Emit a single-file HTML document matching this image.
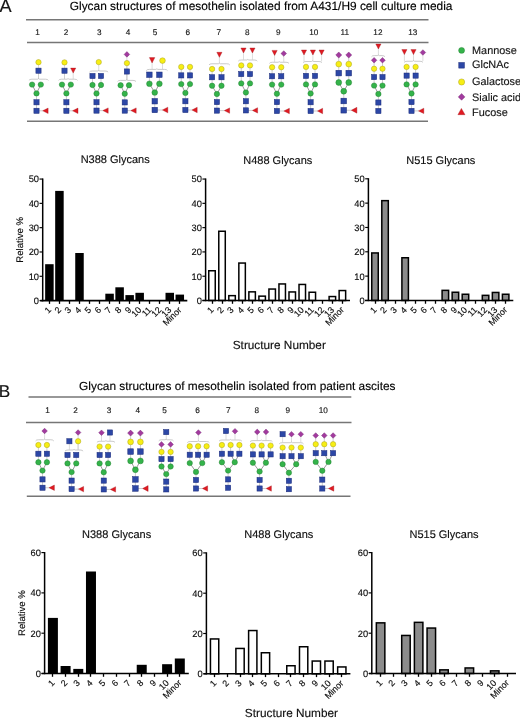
<!DOCTYPE html>
<html><head><meta charset="utf-8"><title>Glycan structures of mesothelin</title>
<style>html,body{margin:0;padding:0;background:#fff;}body{width:520px;height:718px;overflow:hidden;}svg{display:block;}text{stroke:#000;stroke-width:0.14px;}</style>
</head><body>
<svg width="520" height="718" viewBox="0 0 520 718" text-rendering="geometricPrecision" font-family="'Liberation Sans', Arial, Helvetica, sans-serif" fill="#111">
<rect width="520" height="718" fill="#fff"/>
<text x="-0.50" y="12.40" font-size="18.2" text-anchor="start" fill="#151515">A</text>
<text x="-1.20" y="397.00" font-size="17.2" text-anchor="start" fill="#151515">B</text>
<text x="261.10" y="9.50" font-size="11.9" text-anchor="middle" fill="#000" stroke="#000" stroke-width="0.18">Glycan structures of mesothelin isolated from A431/H9 cell culture media</text>
<text x="237.30" y="390.40" font-size="11.87" text-anchor="middle" fill="#000" stroke="#000" stroke-width="0.18">Glycan structures of mesothelin isolated from patient ascites</text>
<line x1="26" y1="19.7" x2="428.5" y2="19.7" stroke="#767676" stroke-width="1.5"/>
<line x1="27" y1="42.6" x2="428.5" y2="42.6" stroke="#767676" stroke-width="1.5"/>
<line x1="27" y1="121.3" x2="428" y2="121.3" stroke="#767676" stroke-width="1.5"/>
<line x1="28.5" y1="397.0" x2="351.3" y2="397.0" stroke="#767676" stroke-width="1.5"/>
<line x1="26" y1="422.6" x2="351.5" y2="422.6" stroke="#767676" stroke-width="1.5"/>
<line x1="26.8" y1="496.2" x2="350.5" y2="496.2" stroke="#767676" stroke-width="1.5"/>
<text x="37.60" y="35.10" font-size="8.2" text-anchor="middle" fill="#222">1</text>
<text x="66.00" y="35.10" font-size="8.2" text-anchor="middle" fill="#222">2</text>
<text x="99.20" y="35.10" font-size="8.2" text-anchor="middle" fill="#222">3</text>
<text x="128.00" y="35.10" font-size="8.2" text-anchor="middle" fill="#222">4</text>
<text x="155.00" y="35.10" font-size="8.2" text-anchor="middle" fill="#222">5</text>
<text x="187.70" y="35.10" font-size="8.2" text-anchor="middle" fill="#222">6</text>
<text x="218.70" y="35.10" font-size="8.2" text-anchor="middle" fill="#222">7</text>
<text x="247.30" y="35.10" font-size="8.2" text-anchor="middle" fill="#222">8</text>
<text x="278.30" y="35.10" font-size="8.2" text-anchor="middle" fill="#222">9</text>
<text x="313.80" y="35.10" font-size="8.2" text-anchor="middle" fill="#222">10</text>
<text x="344.70" y="35.10" font-size="8.2" text-anchor="middle" fill="#222">11</text>
<text x="377.90" y="35.10" font-size="8.2" text-anchor="middle" fill="#222">12</text>
<text x="412.70" y="35.10" font-size="8.2" text-anchor="middle" fill="#222">13</text>
<text x="47.50" y="412.60" font-size="8.2" text-anchor="middle" fill="#222">1</text>
<text x="75.50" y="412.60" font-size="8.2" text-anchor="middle" fill="#222">2</text>
<text x="109.00" y="412.60" font-size="8.2" text-anchor="middle" fill="#222">3</text>
<text x="137.70" y="412.60" font-size="8.2" text-anchor="middle" fill="#222">4</text>
<text x="164.50" y="412.60" font-size="8.2" text-anchor="middle" fill="#222">5</text>
<text x="197.50" y="412.60" font-size="8.2" text-anchor="middle" fill="#222">6</text>
<text x="228.30" y="412.60" font-size="8.2" text-anchor="middle" fill="#222">7</text>
<text x="256.90" y="412.60" font-size="8.2" text-anchor="middle" fill="#222">8</text>
<text x="287.70" y="412.60" font-size="8.2" text-anchor="middle" fill="#222">9</text>
<text x="323.20" y="412.60" font-size="8.2" text-anchor="middle" fill="#222">10</text>
<line x1="36.50" y1="110.80" x2="36.50" y2="102.30" stroke="#b8b8b8" stroke-width="0.7"/>
<line x1="36.50" y1="102.30" x2="36.50" y2="93.40" stroke="#b8b8b8" stroke-width="0.7"/>
<line x1="36.50" y1="93.40" x2="32.10" y2="84.60" stroke="#6e6e6e" stroke-width="0.7"/>
<line x1="36.50" y1="93.40" x2="40.80" y2="84.60" stroke="#6e6e6e" stroke-width="0.7"/>
<line x1="36.50" y1="110.80" x2="42.60" y2="110.80" stroke="#b8b8b8" stroke-width="0.7"/>
<line x1="38.50" y1="70.70" x2="38.50" y2="78.90" stroke="#c4c4c4" stroke-width="0.6"/>
<line x1="38.50" y1="62.20" x2="38.50" y2="78.90" stroke="#c4c4c4" stroke-width="0.6"/>
<path d="M28.90 80.40Q29.40 79.20 31.90 79.20L37.65 79.20L38.65 78.60L39.65 79.20L45.40 79.20Q47.90 79.20 48.40 80.40" fill="none" stroke="#b4b4b4" stroke-width="0.7"/>
<rect x="33.90" y="108.20" width="5.20" height="5.20" fill="#2c47a6" stroke="#1b2a78" stroke-width="0.5"/>
<rect x="33.90" y="99.70" width="5.20" height="5.20" fill="#2c47a6" stroke="#1b2a78" stroke-width="0.5"/>
<circle cx="36.50" cy="93.40" r="2.70" fill="#34b34a" stroke="#1f7d30" stroke-width="0.45"/>
<circle cx="32.10" cy="84.60" r="2.70" fill="#34b34a" stroke="#1f7d30" stroke-width="0.45"/>
<circle cx="40.80" cy="84.60" r="2.70" fill="#34b34a" stroke="#1f7d30" stroke-width="0.45"/>
<path d="M42.60 110.80L48.10 108.10L48.10 113.50Z" fill="#e01a22" stroke="#9a1018" stroke-width="0.35"/>
<rect x="35.90" y="68.10" width="5.20" height="5.20" fill="#2c47a6" stroke="#1b2a78" stroke-width="0.5"/>
<circle cx="38.50" cy="62.20" r="2.70" fill="#f7ee14" stroke="#a09a20" stroke-width="0.45"/>
<line x1="66.40" y1="110.80" x2="66.40" y2="102.30" stroke="#b8b8b8" stroke-width="0.7"/>
<line x1="66.40" y1="102.30" x2="66.40" y2="93.40" stroke="#b8b8b8" stroke-width="0.7"/>
<line x1="66.40" y1="93.40" x2="62.00" y2="84.60" stroke="#6e6e6e" stroke-width="0.7"/>
<line x1="66.40" y1="93.40" x2="70.80" y2="84.60" stroke="#6e6e6e" stroke-width="0.7"/>
<line x1="66.40" y1="110.80" x2="72.50" y2="110.80" stroke="#b8b8b8" stroke-width="0.7"/>
<line x1="64.50" y1="70.70" x2="64.50" y2="78.90" stroke="#c4c4c4" stroke-width="0.6"/>
<line x1="64.50" y1="62.40" x2="64.50" y2="78.90" stroke="#c4c4c4" stroke-width="0.6"/>
<line x1="73.20" y1="70.60" x2="73.20" y2="78.90" stroke="#c4c4c4" stroke-width="0.6"/>
<path d="M58.60 80.40Q59.10 79.20 61.60 79.20L67.05 79.20L68.05 78.60L69.05 79.20L74.50 79.20Q77.00 79.20 77.50 80.40" fill="none" stroke="#b4b4b4" stroke-width="0.7"/>
<rect x="63.80" y="108.20" width="5.20" height="5.20" fill="#2c47a6" stroke="#1b2a78" stroke-width="0.5"/>
<rect x="63.80" y="99.70" width="5.20" height="5.20" fill="#2c47a6" stroke="#1b2a78" stroke-width="0.5"/>
<circle cx="66.40" cy="93.40" r="2.70" fill="#34b34a" stroke="#1f7d30" stroke-width="0.45"/>
<circle cx="62.00" cy="84.60" r="2.70" fill="#34b34a" stroke="#1f7d30" stroke-width="0.45"/>
<circle cx="70.80" cy="84.60" r="2.70" fill="#34b34a" stroke="#1f7d30" stroke-width="0.45"/>
<path d="M72.50 110.80L78.00 108.10L78.00 113.50Z" fill="#e01a22" stroke="#9a1018" stroke-width="0.35"/>
<rect x="61.90" y="68.10" width="5.20" height="5.20" fill="#2c47a6" stroke="#1b2a78" stroke-width="0.5"/>
<circle cx="64.50" cy="62.40" r="2.70" fill="#f7ee14" stroke="#a09a20" stroke-width="0.45"/>
<path d="M70.60 68.10L75.80 68.10L73.20 73.10Z" fill="#e01a22" stroke="#9a1018" stroke-width="0.35"/>
<line x1="96.50" y1="110.60" x2="96.50" y2="102.25" stroke="#b8b8b8" stroke-width="0.7"/>
<line x1="96.50" y1="102.25" x2="96.50" y2="93.50" stroke="#b8b8b8" stroke-width="0.7"/>
<line x1="96.50" y1="93.50" x2="92.50" y2="85.00" stroke="#6e6e6e" stroke-width="0.7"/>
<line x1="96.50" y1="93.50" x2="101.00" y2="85.00" stroke="#6e6e6e" stroke-width="0.7"/>
<line x1="96.50" y1="110.60" x2="102.80" y2="110.60" stroke="#b8b8b8" stroke-width="0.7"/>
<line x1="92.50" y1="85.00" x2="92.50" y2="76.00" stroke="#b8b8b8" stroke-width="0.7"/>
<line x1="101.00" y1="85.00" x2="101.00" y2="76.00" stroke="#b8b8b8" stroke-width="0.7"/>
<line x1="98.75" y1="62.10" x2="98.75" y2="70.70" stroke="#c4c4c4" stroke-width="0.6"/>
<path d="M89.40 72.20Q89.90 71.00 92.40 71.00L97.75 71.00L98.75 70.40L99.75 71.00L105.10 71.00Q107.60 71.00 108.10 72.20" fill="none" stroke="#b4b4b4" stroke-width="0.7"/>
<rect x="93.90" y="108.00" width="5.20" height="5.20" fill="#2c47a6" stroke="#1b2a78" stroke-width="0.5"/>
<rect x="93.90" y="99.65" width="5.20" height="5.20" fill="#2c47a6" stroke="#1b2a78" stroke-width="0.5"/>
<circle cx="96.50" cy="93.50" r="2.70" fill="#34b34a" stroke="#1f7d30" stroke-width="0.45"/>
<circle cx="92.50" cy="85.00" r="2.70" fill="#34b34a" stroke="#1f7d30" stroke-width="0.45"/>
<circle cx="101.00" cy="85.00" r="2.70" fill="#34b34a" stroke="#1f7d30" stroke-width="0.45"/>
<rect x="89.90" y="73.40" width="5.20" height="5.20" fill="#2c47a6" stroke="#1b2a78" stroke-width="0.5"/>
<rect x="98.40" y="73.40" width="5.20" height="5.20" fill="#2c47a6" stroke="#1b2a78" stroke-width="0.5"/>
<path d="M102.80 110.60L108.20 107.90L108.20 113.30Z" fill="#e01a22" stroke="#9a1018" stroke-width="0.35"/>
<circle cx="98.75" cy="62.10" r="2.70" fill="#f7ee14" stroke="#a09a20" stroke-width="0.45"/>
<line x1="124.75" y1="110.60" x2="124.75" y2="102.40" stroke="#b8b8b8" stroke-width="0.7"/>
<line x1="124.75" y1="102.40" x2="124.75" y2="93.75" stroke="#b8b8b8" stroke-width="0.7"/>
<line x1="124.75" y1="93.75" x2="120.60" y2="85.25" stroke="#6e6e6e" stroke-width="0.7"/>
<line x1="124.75" y1="93.75" x2="129.00" y2="85.25" stroke="#6e6e6e" stroke-width="0.7"/>
<line x1="124.75" y1="110.60" x2="130.80" y2="110.60" stroke="#b8b8b8" stroke-width="0.7"/>
<line x1="126.90" y1="71.50" x2="126.90" y2="80.10" stroke="#c4c4c4" stroke-width="0.6"/>
<line x1="126.90" y1="63.10" x2="126.90" y2="80.10" stroke="#c4c4c4" stroke-width="0.6"/>
<line x1="126.90" y1="54.40" x2="126.90" y2="80.10" stroke="#c4c4c4" stroke-width="0.6"/>
<path d="M117.50 81.60Q118.00 80.40 120.50 80.40L125.75 80.40L126.75 79.80L127.75 80.40L133.00 80.40Q135.50 80.40 136.00 81.60" fill="none" stroke="#b4b4b4" stroke-width="0.7"/>
<rect x="122.15" y="108.00" width="5.20" height="5.20" fill="#2c47a6" stroke="#1b2a78" stroke-width="0.5"/>
<rect x="122.15" y="99.80" width="5.20" height="5.20" fill="#2c47a6" stroke="#1b2a78" stroke-width="0.5"/>
<circle cx="124.75" cy="93.75" r="2.70" fill="#34b34a" stroke="#1f7d30" stroke-width="0.45"/>
<circle cx="120.60" cy="85.25" r="2.70" fill="#34b34a" stroke="#1f7d30" stroke-width="0.45"/>
<circle cx="129.00" cy="85.25" r="2.70" fill="#34b34a" stroke="#1f7d30" stroke-width="0.45"/>
<path d="M130.80 110.60L136.20 107.90L136.20 113.30Z" fill="#e01a22" stroke="#9a1018" stroke-width="0.35"/>
<rect x="124.30" y="68.90" width="5.20" height="5.20" fill="#2c47a6" stroke="#1b2a78" stroke-width="0.5"/>
<circle cx="126.90" cy="63.10" r="2.70" fill="#f7ee14" stroke="#a09a20" stroke-width="0.45"/>
<path d="M126.90 51.60L129.70 54.40L126.90 57.20L124.10 54.40Z" fill="#a23a9e" stroke="#6e2470" stroke-width="0.4"/>
<line x1="154.75" y1="110.00" x2="154.75" y2="101.25" stroke="#b8b8b8" stroke-width="0.7"/>
<line x1="154.75" y1="101.25" x2="154.75" y2="92.50" stroke="#b8b8b8" stroke-width="0.7"/>
<line x1="154.75" y1="92.50" x2="149.40" y2="83.75" stroke="#6e6e6e" stroke-width="0.7"/>
<line x1="154.75" y1="92.50" x2="159.40" y2="83.75" stroke="#6e6e6e" stroke-width="0.7"/>
<line x1="154.75" y1="110.00" x2="162.40" y2="110.00" stroke="#b8b8b8" stroke-width="0.7"/>
<line x1="149.40" y1="83.75" x2="149.40" y2="74.75" stroke="#b8b8b8" stroke-width="0.7"/>
<line x1="159.40" y1="83.75" x2="159.40" y2="74.75" stroke="#b8b8b8" stroke-width="0.7"/>
<line x1="152.10" y1="60.25" x2="152.10" y2="69.10" stroke="#c4c4c4" stroke-width="0.6"/>
<line x1="162.50" y1="60.60" x2="162.50" y2="69.10" stroke="#c4c4c4" stroke-width="0.6"/>
<path d="M146.25 70.60Q146.75 69.40 149.25 69.40L155.88 69.40L156.88 68.80L157.88 69.40L164.50 69.40Q167.00 69.40 167.50 70.60" fill="none" stroke="#b4b4b4" stroke-width="0.7"/>
<rect x="152.02" y="107.27" width="5.46" height="5.46" fill="#2c47a6" stroke="#1b2a78" stroke-width="0.5"/>
<rect x="152.02" y="98.52" width="5.46" height="5.46" fill="#2c47a6" stroke="#1b2a78" stroke-width="0.5"/>
<circle cx="154.75" cy="92.50" r="2.84" fill="#34b34a" stroke="#1f7d30" stroke-width="0.45"/>
<circle cx="149.40" cy="83.75" r="2.84" fill="#34b34a" stroke="#1f7d30" stroke-width="0.45"/>
<circle cx="159.40" cy="83.75" r="2.84" fill="#34b34a" stroke="#1f7d30" stroke-width="0.45"/>
<rect x="146.67" y="72.02" width="5.46" height="5.46" fill="#2c47a6" stroke="#1b2a78" stroke-width="0.5"/>
<rect x="156.67" y="72.02" width="5.46" height="5.46" fill="#2c47a6" stroke="#1b2a78" stroke-width="0.5"/>
<path d="M162.40 110.00L167.80 107.17L167.80 112.83Z" fill="#e01a22" stroke="#9a1018" stroke-width="0.35"/>
<path d="M149.37 57.62L154.83 57.62L152.10 62.88Z" fill="#e01a22" stroke="#9a1018" stroke-width="0.35"/>
<circle cx="162.50" cy="60.60" r="2.84" fill="#f7ee14" stroke="#a09a20" stroke-width="0.45"/>
<line x1="185.40" y1="110.00" x2="185.40" y2="101.25" stroke="#b8b8b8" stroke-width="0.7"/>
<line x1="185.40" y1="101.25" x2="185.40" y2="92.90" stroke="#b8b8b8" stroke-width="0.7"/>
<line x1="185.40" y1="92.90" x2="181.25" y2="84.10" stroke="#6e6e6e" stroke-width="0.7"/>
<line x1="185.40" y1="92.90" x2="190.00" y2="84.10" stroke="#6e6e6e" stroke-width="0.7"/>
<line x1="185.40" y1="110.00" x2="191.90" y2="110.00" stroke="#b8b8b8" stroke-width="0.7"/>
<line x1="181.25" y1="84.10" x2="181.25" y2="75.40" stroke="#b8b8b8" stroke-width="0.7"/>
<line x1="181.25" y1="75.40" x2="181.25" y2="66.90" stroke="#b8b8b8" stroke-width="0.7"/>
<line x1="190.00" y1="84.10" x2="190.00" y2="75.40" stroke="#b8b8b8" stroke-width="0.7"/>
<line x1="190.00" y1="75.40" x2="190.00" y2="66.90" stroke="#b8b8b8" stroke-width="0.7"/>
<rect x="182.80" y="107.40" width="5.20" height="5.20" fill="#2c47a6" stroke="#1b2a78" stroke-width="0.5"/>
<rect x="182.80" y="98.65" width="5.20" height="5.20" fill="#2c47a6" stroke="#1b2a78" stroke-width="0.5"/>
<circle cx="185.40" cy="92.90" r="2.70" fill="#34b34a" stroke="#1f7d30" stroke-width="0.45"/>
<circle cx="181.25" cy="84.10" r="2.70" fill="#34b34a" stroke="#1f7d30" stroke-width="0.45"/>
<circle cx="190.00" cy="84.10" r="2.70" fill="#34b34a" stroke="#1f7d30" stroke-width="0.45"/>
<rect x="178.65" y="72.80" width="5.20" height="5.20" fill="#2c47a6" stroke="#1b2a78" stroke-width="0.5"/>
<circle cx="181.25" cy="66.90" r="2.70" fill="#f7ee14" stroke="#a09a20" stroke-width="0.45"/>
<rect x="187.40" y="72.80" width="5.20" height="5.20" fill="#2c47a6" stroke="#1b2a78" stroke-width="0.5"/>
<circle cx="190.00" cy="66.90" r="2.70" fill="#f7ee14" stroke="#a09a20" stroke-width="0.45"/>
<path d="M191.90 110.00L197.20 107.30L197.20 112.70Z" fill="#e01a22" stroke="#9a1018" stroke-width="0.35"/>
<line x1="216.90" y1="110.60" x2="216.90" y2="102.10" stroke="#b8b8b8" stroke-width="0.7"/>
<line x1="216.90" y1="102.10" x2="216.90" y2="94.00" stroke="#b8b8b8" stroke-width="0.7"/>
<line x1="216.90" y1="94.00" x2="212.10" y2="85.75" stroke="#6e6e6e" stroke-width="0.7"/>
<line x1="216.90" y1="94.00" x2="221.50" y2="85.75" stroke="#6e6e6e" stroke-width="0.7"/>
<line x1="216.90" y1="110.60" x2="224.30" y2="110.60" stroke="#b8b8b8" stroke-width="0.7"/>
<line x1="212.10" y1="85.75" x2="212.10" y2="77.25" stroke="#b8b8b8" stroke-width="0.7"/>
<line x1="212.10" y1="77.25" x2="212.10" y2="69.00" stroke="#b8b8b8" stroke-width="0.7"/>
<line x1="221.50" y1="85.75" x2="221.50" y2="77.25" stroke="#b8b8b8" stroke-width="0.7"/>
<line x1="221.50" y1="77.25" x2="221.50" y2="69.00" stroke="#b8b8b8" stroke-width="0.7"/>
<line x1="219.40" y1="54.80" x2="219.40" y2="63.45" stroke="#c4c4c4" stroke-width="0.6"/>
<path d="M209.00 64.95Q209.50 63.75 212.00 63.75L218.38 63.75L219.38 63.15L220.38 63.75L226.75 63.75Q229.25 63.75 229.75 64.95" fill="none" stroke="#b4b4b4" stroke-width="0.7"/>
<rect x="214.30" y="108.00" width="5.20" height="5.20" fill="#2c47a6" stroke="#1b2a78" stroke-width="0.5"/>
<rect x="214.30" y="99.50" width="5.20" height="5.20" fill="#2c47a6" stroke="#1b2a78" stroke-width="0.5"/>
<circle cx="216.90" cy="94.00" r="2.70" fill="#34b34a" stroke="#1f7d30" stroke-width="0.45"/>
<circle cx="212.10" cy="85.75" r="2.70" fill="#34b34a" stroke="#1f7d30" stroke-width="0.45"/>
<circle cx="221.50" cy="85.75" r="2.70" fill="#34b34a" stroke="#1f7d30" stroke-width="0.45"/>
<rect x="209.50" y="74.65" width="5.20" height="5.20" fill="#2c47a6" stroke="#1b2a78" stroke-width="0.5"/>
<circle cx="212.10" cy="69.00" r="2.70" fill="#f7ee14" stroke="#a09a20" stroke-width="0.45"/>
<rect x="218.90" y="74.65" width="5.20" height="5.20" fill="#2c47a6" stroke="#1b2a78" stroke-width="0.5"/>
<circle cx="221.50" cy="69.00" r="2.70" fill="#f7ee14" stroke="#a09a20" stroke-width="0.45"/>
<path d="M224.30 110.60L229.60 107.90L229.60 113.30Z" fill="#e01a22" stroke="#9a1018" stroke-width="0.35"/>
<path d="M216.80 52.30L222.00 52.30L219.40 57.30Z" fill="#e01a22" stroke="#9a1018" stroke-width="0.35"/>
<line x1="245.90" y1="110.40" x2="245.90" y2="101.25" stroke="#b8b8b8" stroke-width="0.7"/>
<line x1="245.90" y1="101.25" x2="245.90" y2="92.50" stroke="#b8b8b8" stroke-width="0.7"/>
<line x1="245.90" y1="92.50" x2="241.25" y2="83.40" stroke="#6e6e6e" stroke-width="0.7"/>
<line x1="245.90" y1="92.50" x2="250.00" y2="83.40" stroke="#6e6e6e" stroke-width="0.7"/>
<line x1="245.90" y1="110.40" x2="252.40" y2="110.40" stroke="#b8b8b8" stroke-width="0.7"/>
<line x1="241.25" y1="83.40" x2="241.25" y2="74.10" stroke="#b8b8b8" stroke-width="0.7"/>
<line x1="241.25" y1="74.10" x2="241.25" y2="65.40" stroke="#b8b8b8" stroke-width="0.7"/>
<line x1="250.00" y1="83.40" x2="250.00" y2="74.10" stroke="#b8b8b8" stroke-width="0.7"/>
<line x1="250.00" y1="74.10" x2="250.00" y2="65.40" stroke="#b8b8b8" stroke-width="0.7"/>
<line x1="243.50" y1="50.50" x2="243.50" y2="59.70" stroke="#c4c4c4" stroke-width="0.6"/>
<line x1="252.45" y1="50.50" x2="252.45" y2="59.70" stroke="#c4c4c4" stroke-width="0.6"/>
<path d="M238.25 61.20Q238.75 60.00 241.25 60.00L246.75 60.00L247.75 59.40L248.75 60.00L254.25 60.00Q256.75 60.00 257.25 61.20" fill="none" stroke="#b4b4b4" stroke-width="0.7"/>
<rect x="243.30" y="107.80" width="5.20" height="5.20" fill="#2c47a6" stroke="#1b2a78" stroke-width="0.5"/>
<rect x="243.30" y="98.65" width="5.20" height="5.20" fill="#2c47a6" stroke="#1b2a78" stroke-width="0.5"/>
<circle cx="245.90" cy="92.50" r="2.70" fill="#34b34a" stroke="#1f7d30" stroke-width="0.45"/>
<circle cx="241.25" cy="83.40" r="2.70" fill="#34b34a" stroke="#1f7d30" stroke-width="0.45"/>
<circle cx="250.00" cy="83.40" r="2.70" fill="#34b34a" stroke="#1f7d30" stroke-width="0.45"/>
<rect x="238.65" y="71.50" width="5.20" height="5.20" fill="#2c47a6" stroke="#1b2a78" stroke-width="0.5"/>
<circle cx="241.25" cy="65.40" r="2.70" fill="#f7ee14" stroke="#a09a20" stroke-width="0.45"/>
<rect x="247.40" y="71.50" width="5.20" height="5.20" fill="#2c47a6" stroke="#1b2a78" stroke-width="0.5"/>
<circle cx="250.00" cy="65.40" r="2.70" fill="#f7ee14" stroke="#a09a20" stroke-width="0.45"/>
<path d="M252.40 110.40L257.60 107.70L257.60 113.10Z" fill="#e01a22" stroke="#9a1018" stroke-width="0.35"/>
<path d="M240.90 48.00L246.10 48.00L243.50 53.00Z" fill="#e01a22" stroke="#9a1018" stroke-width="0.35"/>
<path d="M249.85 48.00L255.05 48.00L252.45 53.00Z" fill="#e01a22" stroke="#9a1018" stroke-width="0.35"/>
<line x1="276.90" y1="111.00" x2="276.90" y2="102.10" stroke="#b8b8b8" stroke-width="0.7"/>
<line x1="276.90" y1="102.10" x2="276.90" y2="93.75" stroke="#b8b8b8" stroke-width="0.7"/>
<line x1="276.90" y1="93.75" x2="272.10" y2="84.60" stroke="#6e6e6e" stroke-width="0.7"/>
<line x1="276.90" y1="93.75" x2="281.25" y2="84.60" stroke="#6e6e6e" stroke-width="0.7"/>
<line x1="276.90" y1="111.00" x2="283.80" y2="111.00" stroke="#b8b8b8" stroke-width="0.7"/>
<line x1="272.10" y1="84.60" x2="272.10" y2="76.25" stroke="#b8b8b8" stroke-width="0.7"/>
<line x1="272.10" y1="76.25" x2="272.10" y2="67.25" stroke="#b8b8b8" stroke-width="0.7"/>
<line x1="281.25" y1="84.60" x2="281.25" y2="76.25" stroke="#b8b8b8" stroke-width="0.7"/>
<line x1="281.25" y1="76.25" x2="281.25" y2="67.25" stroke="#b8b8b8" stroke-width="0.7"/>
<line x1="274.60" y1="52.90" x2="274.60" y2="61.95" stroke="#c4c4c4" stroke-width="0.6"/>
<line x1="283.75" y1="53.50" x2="283.75" y2="61.95" stroke="#c4c4c4" stroke-width="0.6"/>
<path d="M269.40 63.45Q269.90 62.25 272.40 62.25L278.20 62.25L279.20 61.65L280.20 62.25L286.00 62.25Q288.50 62.25 289.00 63.45" fill="none" stroke="#b4b4b4" stroke-width="0.7"/>
<rect x="274.30" y="108.40" width="5.20" height="5.20" fill="#2c47a6" stroke="#1b2a78" stroke-width="0.5"/>
<rect x="274.30" y="99.50" width="5.20" height="5.20" fill="#2c47a6" stroke="#1b2a78" stroke-width="0.5"/>
<circle cx="276.90" cy="93.75" r="2.70" fill="#34b34a" stroke="#1f7d30" stroke-width="0.45"/>
<circle cx="272.10" cy="84.60" r="2.70" fill="#34b34a" stroke="#1f7d30" stroke-width="0.45"/>
<circle cx="281.25" cy="84.60" r="2.70" fill="#34b34a" stroke="#1f7d30" stroke-width="0.45"/>
<rect x="269.50" y="73.65" width="5.20" height="5.20" fill="#2c47a6" stroke="#1b2a78" stroke-width="0.5"/>
<circle cx="272.10" cy="67.25" r="2.70" fill="#f7ee14" stroke="#a09a20" stroke-width="0.45"/>
<rect x="278.65" y="73.65" width="5.20" height="5.20" fill="#2c47a6" stroke="#1b2a78" stroke-width="0.5"/>
<circle cx="281.25" cy="67.25" r="2.70" fill="#f7ee14" stroke="#a09a20" stroke-width="0.45"/>
<path d="M283.80 111.00L289.40 108.30L289.40 113.70Z" fill="#e01a22" stroke="#9a1018" stroke-width="0.35"/>
<path d="M272.00 50.40L277.20 50.40L274.60 55.40Z" fill="#e01a22" stroke="#9a1018" stroke-width="0.35"/>
<path d="M283.75 50.70L286.55 53.50L283.75 56.30L280.95 53.50Z" fill="#a23a9e" stroke="#6e2470" stroke-width="0.4"/>
<line x1="310.60" y1="111.00" x2="310.60" y2="102.25" stroke="#b8b8b8" stroke-width="0.7"/>
<line x1="310.60" y1="102.25" x2="310.60" y2="93.50" stroke="#b8b8b8" stroke-width="0.7"/>
<line x1="310.60" y1="93.50" x2="306.00" y2="84.40" stroke="#6e6e6e" stroke-width="0.7"/>
<line x1="310.60" y1="93.50" x2="315.00" y2="84.40" stroke="#6e6e6e" stroke-width="0.7"/>
<line x1="310.60" y1="111.00" x2="317.40" y2="111.00" stroke="#b8b8b8" stroke-width="0.7"/>
<line x1="306.00" y1="84.40" x2="306.00" y2="75.90" stroke="#b8b8b8" stroke-width="0.7"/>
<line x1="306.00" y1="75.90" x2="306.00" y2="66.90" stroke="#b8b8b8" stroke-width="0.7"/>
<line x1="315.00" y1="84.40" x2="315.00" y2="75.90" stroke="#b8b8b8" stroke-width="0.7"/>
<line x1="315.00" y1="75.90" x2="315.00" y2="66.90" stroke="#b8b8b8" stroke-width="0.7"/>
<line x1="304.00" y1="52.50" x2="304.00" y2="61.20" stroke="#c4c4c4" stroke-width="0.6"/>
<line x1="312.90" y1="52.50" x2="312.90" y2="61.20" stroke="#c4c4c4" stroke-width="0.6"/>
<line x1="321.60" y1="52.50" x2="321.60" y2="61.20" stroke="#c4c4c4" stroke-width="0.6"/>
<path d="M303.00 62.70Q303.50 61.50 306.00 61.50L311.50 61.50L312.50 60.90L313.50 61.50L319.00 61.50Q321.50 61.50 322.00 62.70" fill="none" stroke="#b4b4b4" stroke-width="0.7"/>
<rect x="308.00" y="108.40" width="5.20" height="5.20" fill="#2c47a6" stroke="#1b2a78" stroke-width="0.5"/>
<rect x="308.00" y="99.65" width="5.20" height="5.20" fill="#2c47a6" stroke="#1b2a78" stroke-width="0.5"/>
<circle cx="310.60" cy="93.50" r="2.70" fill="#34b34a" stroke="#1f7d30" stroke-width="0.45"/>
<circle cx="306.00" cy="84.40" r="2.70" fill="#34b34a" stroke="#1f7d30" stroke-width="0.45"/>
<circle cx="315.00" cy="84.40" r="2.70" fill="#34b34a" stroke="#1f7d30" stroke-width="0.45"/>
<rect x="303.40" y="73.30" width="5.20" height="5.20" fill="#2c47a6" stroke="#1b2a78" stroke-width="0.5"/>
<circle cx="306.00" cy="66.90" r="2.70" fill="#f7ee14" stroke="#a09a20" stroke-width="0.45"/>
<rect x="312.40" y="73.30" width="5.20" height="5.20" fill="#2c47a6" stroke="#1b2a78" stroke-width="0.5"/>
<circle cx="315.00" cy="66.90" r="2.70" fill="#f7ee14" stroke="#a09a20" stroke-width="0.45"/>
<path d="M317.40 111.00L322.60 108.30L322.60 113.70Z" fill="#e01a22" stroke="#9a1018" stroke-width="0.35"/>
<path d="M301.40 50.00L306.60 50.00L304.00 55.00Z" fill="#e01a22" stroke="#9a1018" stroke-width="0.35"/>
<path d="M310.30 50.00L315.50 50.00L312.90 55.00Z" fill="#e01a22" stroke="#9a1018" stroke-width="0.35"/>
<path d="M319.00 50.00L324.20 50.00L321.60 55.00Z" fill="#e01a22" stroke="#9a1018" stroke-width="0.35"/>
<line x1="343.75" y1="110.25" x2="343.75" y2="101.00" stroke="#b8b8b8" stroke-width="0.7"/>
<line x1="343.75" y1="101.00" x2="343.75" y2="91.25" stroke="#b8b8b8" stroke-width="0.7"/>
<line x1="343.75" y1="91.25" x2="338.75" y2="82.50" stroke="#6e6e6e" stroke-width="0.7"/>
<line x1="343.75" y1="91.25" x2="348.75" y2="82.50" stroke="#6e6e6e" stroke-width="0.7"/>
<line x1="343.75" y1="110.25" x2="351.30" y2="110.25" stroke="#b8b8b8" stroke-width="0.7"/>
<line x1="338.75" y1="82.50" x2="338.75" y2="73.10" stroke="#b8b8b8" stroke-width="0.7"/>
<line x1="338.75" y1="73.10" x2="338.75" y2="64.10" stroke="#b8b8b8" stroke-width="0.7"/>
<line x1="338.75" y1="64.10" x2="338.75" y2="55.00" stroke="#b8b8b8" stroke-width="0.7"/>
<line x1="348.75" y1="82.50" x2="348.75" y2="73.10" stroke="#b8b8b8" stroke-width="0.7"/>
<line x1="348.75" y1="73.10" x2="348.75" y2="64.10" stroke="#b8b8b8" stroke-width="0.7"/>
<line x1="348.75" y1="64.10" x2="348.75" y2="55.00" stroke="#b8b8b8" stroke-width="0.7"/>
<rect x="340.94" y="107.44" width="5.62" height="5.62" fill="#2c47a6" stroke="#1b2a78" stroke-width="0.5"/>
<rect x="340.94" y="98.19" width="5.62" height="5.62" fill="#2c47a6" stroke="#1b2a78" stroke-width="0.5"/>
<circle cx="343.75" cy="91.25" r="2.92" fill="#34b34a" stroke="#1f7d30" stroke-width="0.45"/>
<circle cx="338.75" cy="82.50" r="2.92" fill="#34b34a" stroke="#1f7d30" stroke-width="0.45"/>
<circle cx="348.75" cy="82.50" r="2.92" fill="#34b34a" stroke="#1f7d30" stroke-width="0.45"/>
<rect x="335.94" y="70.29" width="5.62" height="5.62" fill="#2c47a6" stroke="#1b2a78" stroke-width="0.5"/>
<circle cx="338.75" cy="64.10" r="2.92" fill="#f7ee14" stroke="#a09a20" stroke-width="0.45"/>
<path d="M338.75 51.98L341.77 55.00L338.75 58.02L335.73 55.00Z" fill="#a23a9e" stroke="#6e2470" stroke-width="0.4"/>
<rect x="345.94" y="70.29" width="5.62" height="5.62" fill="#2c47a6" stroke="#1b2a78" stroke-width="0.5"/>
<circle cx="348.75" cy="64.10" r="2.92" fill="#f7ee14" stroke="#a09a20" stroke-width="0.45"/>
<path d="M348.75 51.98L351.77 55.00L348.75 58.02L345.73 55.00Z" fill="#a23a9e" stroke="#6e2470" stroke-width="0.4"/>
<path d="M351.30 110.25L356.90 107.33L356.90 113.17Z" fill="#e01a22" stroke="#9a1018" stroke-width="0.35"/>
<line x1="378.40" y1="111.00" x2="378.40" y2="102.50" stroke="#b8b8b8" stroke-width="0.7"/>
<line x1="378.40" y1="102.50" x2="378.40" y2="94.00" stroke="#b8b8b8" stroke-width="0.7"/>
<line x1="378.40" y1="94.00" x2="374.10" y2="85.60" stroke="#6e6e6e" stroke-width="0.7"/>
<line x1="378.40" y1="94.00" x2="382.50" y2="85.60" stroke="#6e6e6e" stroke-width="0.7"/>
<line x1="374.10" y1="85.60" x2="374.10" y2="77.10" stroke="#b8b8b8" stroke-width="0.7"/>
<line x1="374.10" y1="77.10" x2="374.10" y2="68.75" stroke="#b8b8b8" stroke-width="0.7"/>
<line x1="374.10" y1="68.75" x2="374.10" y2="60.25" stroke="#b8b8b8" stroke-width="0.7"/>
<line x1="382.50" y1="85.60" x2="382.50" y2="77.10" stroke="#b8b8b8" stroke-width="0.7"/>
<line x1="382.50" y1="77.10" x2="382.50" y2="68.75" stroke="#b8b8b8" stroke-width="0.7"/>
<line x1="382.50" y1="68.75" x2="382.50" y2="60.25" stroke="#b8b8b8" stroke-width="0.7"/>
<line x1="378.40" y1="46.50" x2="378.40" y2="55.30" stroke="#c4c4c4" stroke-width="0.6"/>
<path d="M371.50 56.80Q372.00 55.60 374.50 55.60L377.25 55.60L378.25 55.00L379.25 55.60L382.00 55.60Q384.50 55.60 385.00 56.80" fill="none" stroke="#b4b4b4" stroke-width="0.7"/>
<rect x="375.80" y="108.40" width="5.20" height="5.20" fill="#2c47a6" stroke="#1b2a78" stroke-width="0.5"/>
<rect x="375.80" y="99.90" width="5.20" height="5.20" fill="#2c47a6" stroke="#1b2a78" stroke-width="0.5"/>
<circle cx="378.40" cy="94.00" r="2.70" fill="#34b34a" stroke="#1f7d30" stroke-width="0.45"/>
<circle cx="374.10" cy="85.60" r="2.70" fill="#34b34a" stroke="#1f7d30" stroke-width="0.45"/>
<circle cx="382.50" cy="85.60" r="2.70" fill="#34b34a" stroke="#1f7d30" stroke-width="0.45"/>
<rect x="371.50" y="74.50" width="5.20" height="5.20" fill="#2c47a6" stroke="#1b2a78" stroke-width="0.5"/>
<circle cx="374.10" cy="68.75" r="2.70" fill="#f7ee14" stroke="#a09a20" stroke-width="0.45"/>
<path d="M374.10 57.45L376.90 60.25L374.10 63.05L371.30 60.25Z" fill="#a23a9e" stroke="#6e2470" stroke-width="0.4"/>
<rect x="379.90" y="74.50" width="5.20" height="5.20" fill="#2c47a6" stroke="#1b2a78" stroke-width="0.5"/>
<circle cx="382.50" cy="68.75" r="2.70" fill="#f7ee14" stroke="#a09a20" stroke-width="0.45"/>
<path d="M382.50 57.45L385.30 60.25L382.50 63.05L379.70 60.25Z" fill="#a23a9e" stroke="#6e2470" stroke-width="0.4"/>
<path d="M375.80 44.00L381.00 44.00L378.40 49.00Z" fill="#e01a22" stroke="#9a1018" stroke-width="0.35"/>
<line x1="411.50" y1="110.90" x2="411.50" y2="102.10" stroke="#b8b8b8" stroke-width="0.7"/>
<line x1="411.50" y1="102.10" x2="411.50" y2="93.50" stroke="#b8b8b8" stroke-width="0.7"/>
<line x1="411.50" y1="93.50" x2="406.60" y2="84.40" stroke="#6e6e6e" stroke-width="0.7"/>
<line x1="411.50" y1="93.50" x2="415.60" y2="84.40" stroke="#6e6e6e" stroke-width="0.7"/>
<line x1="411.50" y1="110.90" x2="418.40" y2="110.90" stroke="#b8b8b8" stroke-width="0.7"/>
<line x1="406.60" y1="84.40" x2="406.60" y2="75.60" stroke="#b8b8b8" stroke-width="0.7"/>
<line x1="406.60" y1="75.60" x2="406.60" y2="66.90" stroke="#b8b8b8" stroke-width="0.7"/>
<line x1="415.60" y1="84.40" x2="415.60" y2="75.60" stroke="#b8b8b8" stroke-width="0.7"/>
<line x1="415.60" y1="75.60" x2="415.60" y2="66.90" stroke="#b8b8b8" stroke-width="0.7"/>
<line x1="404.40" y1="52.10" x2="404.40" y2="60.95" stroke="#c4c4c4" stroke-width="0.6"/>
<line x1="413.50" y1="52.10" x2="413.50" y2="60.95" stroke="#c4c4c4" stroke-width="0.6"/>
<line x1="422.90" y1="52.50" x2="422.90" y2="60.95" stroke="#c4c4c4" stroke-width="0.6"/>
<path d="M404.00 62.45Q404.50 61.25 407.00 61.25L412.50 61.25L413.50 60.65L414.50 61.25L420.00 61.25Q422.50 61.25 423.00 62.45" fill="none" stroke="#b4b4b4" stroke-width="0.7"/>
<rect x="408.90" y="108.30" width="5.20" height="5.20" fill="#2c47a6" stroke="#1b2a78" stroke-width="0.5"/>
<rect x="408.90" y="99.50" width="5.20" height="5.20" fill="#2c47a6" stroke="#1b2a78" stroke-width="0.5"/>
<circle cx="411.50" cy="93.50" r="2.70" fill="#34b34a" stroke="#1f7d30" stroke-width="0.45"/>
<circle cx="406.60" cy="84.40" r="2.70" fill="#34b34a" stroke="#1f7d30" stroke-width="0.45"/>
<circle cx="415.60" cy="84.40" r="2.70" fill="#34b34a" stroke="#1f7d30" stroke-width="0.45"/>
<rect x="404.00" y="73.00" width="5.20" height="5.20" fill="#2c47a6" stroke="#1b2a78" stroke-width="0.5"/>
<circle cx="406.60" cy="66.90" r="2.70" fill="#f7ee14" stroke="#a09a20" stroke-width="0.45"/>
<rect x="413.00" y="73.00" width="5.20" height="5.20" fill="#2c47a6" stroke="#1b2a78" stroke-width="0.5"/>
<circle cx="415.60" cy="66.90" r="2.70" fill="#f7ee14" stroke="#a09a20" stroke-width="0.45"/>
<path d="M418.40 110.90L423.80 108.20L423.80 113.60Z" fill="#e01a22" stroke="#9a1018" stroke-width="0.35"/>
<path d="M401.80 49.60L407.00 49.60L404.40 54.60Z" fill="#e01a22" stroke="#9a1018" stroke-width="0.35"/>
<path d="M410.90 49.60L416.10 49.60L413.50 54.60Z" fill="#e01a22" stroke="#9a1018" stroke-width="0.35"/>
<path d="M422.90 49.70L425.70 52.50L422.90 55.30L420.10 52.50Z" fill="#a23a9e" stroke="#6e2470" stroke-width="0.4"/>
<line x1="42.50" y1="487.75" x2="42.50" y2="479.40" stroke="#b8b8b8" stroke-width="0.7"/>
<line x1="42.50" y1="479.40" x2="42.50" y2="470.60" stroke="#b8b8b8" stroke-width="0.7"/>
<line x1="42.50" y1="470.60" x2="38.40" y2="462.25" stroke="#6e6e6e" stroke-width="0.7"/>
<line x1="42.50" y1="470.60" x2="46.90" y2="462.25" stroke="#6e6e6e" stroke-width="0.7"/>
<line x1="42.50" y1="487.75" x2="48.90" y2="487.75" stroke="#b8b8b8" stroke-width="0.7"/>
<line x1="38.40" y1="462.25" x2="38.40" y2="453.75" stroke="#b8b8b8" stroke-width="0.7"/>
<line x1="38.40" y1="453.75" x2="38.40" y2="445.00" stroke="#b8b8b8" stroke-width="0.7"/>
<line x1="46.90" y1="462.25" x2="46.90" y2="453.75" stroke="#b8b8b8" stroke-width="0.7"/>
<line x1="46.90" y1="453.75" x2="46.90" y2="445.00" stroke="#b8b8b8" stroke-width="0.7"/>
<line x1="44.60" y1="431.00" x2="44.60" y2="439.45" stroke="#c4c4c4" stroke-width="0.6"/>
<path d="M35.60 440.95Q36.10 439.75 38.60 439.75L43.67 439.75L44.67 439.15L45.67 439.75L50.75 439.75Q53.25 439.75 53.75 440.95" fill="none" stroke="#b4b4b4" stroke-width="0.7"/>
<rect x="39.90" y="485.15" width="5.20" height="5.20" fill="#2c47a6" stroke="#1b2a78" stroke-width="0.5"/>
<rect x="39.90" y="476.80" width="5.20" height="5.20" fill="#2c47a6" stroke="#1b2a78" stroke-width="0.5"/>
<circle cx="42.50" cy="470.60" r="2.70" fill="#34b34a" stroke="#1f7d30" stroke-width="0.45"/>
<circle cx="38.40" cy="462.25" r="2.70" fill="#34b34a" stroke="#1f7d30" stroke-width="0.45"/>
<circle cx="46.90" cy="462.25" r="2.70" fill="#34b34a" stroke="#1f7d30" stroke-width="0.45"/>
<rect x="35.80" y="451.15" width="5.20" height="5.20" fill="#2c47a6" stroke="#1b2a78" stroke-width="0.5"/>
<circle cx="38.40" cy="445.00" r="2.70" fill="#f7ee14" stroke="#a09a20" stroke-width="0.45"/>
<rect x="44.30" y="451.15" width="5.20" height="5.20" fill="#2c47a6" stroke="#1b2a78" stroke-width="0.5"/>
<circle cx="46.90" cy="445.00" r="2.70" fill="#f7ee14" stroke="#a09a20" stroke-width="0.45"/>
<path d="M48.90 487.75L54.40 485.05L54.40 490.45Z" fill="#e01a22" stroke="#9a1018" stroke-width="0.35"/>
<path d="M44.60 428.20L47.40 431.00L44.60 433.80L41.80 431.00Z" fill="#a23a9e" stroke="#6e2470" stroke-width="0.4"/>
<line x1="71.60" y1="489.10" x2="71.60" y2="480.60" stroke="#b8b8b8" stroke-width="0.7"/>
<line x1="71.60" y1="480.60" x2="71.60" y2="472.10" stroke="#b8b8b8" stroke-width="0.7"/>
<line x1="71.60" y1="472.10" x2="67.50" y2="463.40" stroke="#6e6e6e" stroke-width="0.7"/>
<line x1="71.60" y1="472.10" x2="76.25" y2="463.40" stroke="#6e6e6e" stroke-width="0.7"/>
<line x1="71.60" y1="489.10" x2="78.30" y2="489.10" stroke="#b8b8b8" stroke-width="0.7"/>
<line x1="67.50" y1="463.40" x2="67.50" y2="455.00" stroke="#b8b8b8" stroke-width="0.7"/>
<line x1="76.25" y1="463.40" x2="76.25" y2="455.00" stroke="#b8b8b8" stroke-width="0.7"/>
<line x1="69.40" y1="441.25" x2="69.40" y2="449.70" stroke="#c4c4c4" stroke-width="0.6"/>
<line x1="78.10" y1="441.25" x2="78.10" y2="449.70" stroke="#c4c4c4" stroke-width="0.6"/>
<line x1="78.10" y1="432.50" x2="78.10" y2="449.70" stroke="#c4c4c4" stroke-width="0.6"/>
<path d="M65.00 451.20Q65.50 450.00 68.00 450.00L73.05 450.00L74.05 449.40L75.05 450.00L80.10 450.00Q82.60 450.00 83.10 451.20" fill="none" stroke="#b4b4b4" stroke-width="0.7"/>
<rect x="69.00" y="486.50" width="5.20" height="5.20" fill="#2c47a6" stroke="#1b2a78" stroke-width="0.5"/>
<rect x="69.00" y="478.00" width="5.20" height="5.20" fill="#2c47a6" stroke="#1b2a78" stroke-width="0.5"/>
<circle cx="71.60" cy="472.10" r="2.70" fill="#34b34a" stroke="#1f7d30" stroke-width="0.45"/>
<circle cx="67.50" cy="463.40" r="2.70" fill="#34b34a" stroke="#1f7d30" stroke-width="0.45"/>
<circle cx="76.25" cy="463.40" r="2.70" fill="#34b34a" stroke="#1f7d30" stroke-width="0.45"/>
<rect x="64.90" y="452.40" width="5.20" height="5.20" fill="#2c47a6" stroke="#1b2a78" stroke-width="0.5"/>
<rect x="73.65" y="452.40" width="5.20" height="5.20" fill="#2c47a6" stroke="#1b2a78" stroke-width="0.5"/>
<path d="M78.30 489.10L83.60 486.40L83.60 491.80Z" fill="#e01a22" stroke="#9a1018" stroke-width="0.35"/>
<rect x="66.80" y="438.65" width="5.20" height="5.20" fill="#2c47a6" stroke="#1b2a78" stroke-width="0.5"/>
<circle cx="78.10" cy="441.25" r="2.70" fill="#f7ee14" stroke="#a09a20" stroke-width="0.45"/>
<path d="M78.10 429.70L80.90 432.50L78.10 435.30L75.30 432.50Z" fill="#a23a9e" stroke="#6e2470" stroke-width="0.4"/>
<line x1="103.75" y1="489.40" x2="103.75" y2="480.60" stroke="#b8b8b8" stroke-width="0.7"/>
<line x1="103.75" y1="480.60" x2="103.75" y2="472.25" stroke="#b8b8b8" stroke-width="0.7"/>
<line x1="103.75" y1="472.25" x2="99.60" y2="463.40" stroke="#6e6e6e" stroke-width="0.7"/>
<line x1="103.75" y1="472.25" x2="108.10" y2="463.40" stroke="#6e6e6e" stroke-width="0.7"/>
<line x1="103.75" y1="489.40" x2="110.30" y2="489.40" stroke="#b8b8b8" stroke-width="0.7"/>
<line x1="99.60" y1="463.40" x2="99.60" y2="455.00" stroke="#b8b8b8" stroke-width="0.7"/>
<line x1="99.60" y1="455.00" x2="99.60" y2="446.60" stroke="#b8b8b8" stroke-width="0.7"/>
<line x1="108.10" y1="463.40" x2="108.10" y2="455.00" stroke="#b8b8b8" stroke-width="0.7"/>
<line x1="108.10" y1="455.00" x2="108.10" y2="446.60" stroke="#b8b8b8" stroke-width="0.7"/>
<line x1="101.50" y1="432.75" x2="101.50" y2="440.95" stroke="#c4c4c4" stroke-width="0.6"/>
<line x1="110.00" y1="432.50" x2="110.00" y2="440.95" stroke="#c4c4c4" stroke-width="0.6"/>
<path d="M96.90 442.45Q97.40 441.25 99.90 441.25L104.95 441.25L105.95 440.65L106.95 441.25L112.00 441.25Q114.50 441.25 115.00 442.45" fill="none" stroke="#b4b4b4" stroke-width="0.7"/>
<rect x="101.15" y="486.80" width="5.20" height="5.20" fill="#2c47a6" stroke="#1b2a78" stroke-width="0.5"/>
<rect x="101.15" y="478.00" width="5.20" height="5.20" fill="#2c47a6" stroke="#1b2a78" stroke-width="0.5"/>
<circle cx="103.75" cy="472.25" r="2.70" fill="#34b34a" stroke="#1f7d30" stroke-width="0.45"/>
<circle cx="99.60" cy="463.40" r="2.70" fill="#34b34a" stroke="#1f7d30" stroke-width="0.45"/>
<circle cx="108.10" cy="463.40" r="2.70" fill="#34b34a" stroke="#1f7d30" stroke-width="0.45"/>
<rect x="97.00" y="452.40" width="5.20" height="5.20" fill="#2c47a6" stroke="#1b2a78" stroke-width="0.5"/>
<circle cx="99.60" cy="446.60" r="2.70" fill="#f7ee14" stroke="#a09a20" stroke-width="0.45"/>
<rect x="105.50" y="452.40" width="5.20" height="5.20" fill="#2c47a6" stroke="#1b2a78" stroke-width="0.5"/>
<circle cx="108.10" cy="446.60" r="2.70" fill="#f7ee14" stroke="#a09a20" stroke-width="0.45"/>
<path d="M110.30 489.40L115.60 486.70L115.60 492.10Z" fill="#e01a22" stroke="#9a1018" stroke-width="0.35"/>
<path d="M101.50 429.95L104.30 432.75L101.50 435.55L98.70 432.75Z" fill="#a23a9e" stroke="#6e2470" stroke-width="0.4"/>
<rect x="107.40" y="429.90" width="5.20" height="5.20" fill="#2c47a6" stroke="#1b2a78" stroke-width="0.5"/>
<line x1="135.40" y1="488.50" x2="135.40" y2="479.40" stroke="#b8b8b8" stroke-width="0.7"/>
<line x1="135.40" y1="479.40" x2="135.40" y2="469.75" stroke="#b8b8b8" stroke-width="0.7"/>
<line x1="135.40" y1="469.75" x2="130.60" y2="460.90" stroke="#6e6e6e" stroke-width="0.7"/>
<line x1="135.40" y1="469.75" x2="140.40" y2="460.90" stroke="#6e6e6e" stroke-width="0.7"/>
<line x1="135.40" y1="488.50" x2="142.60" y2="488.50" stroke="#b8b8b8" stroke-width="0.7"/>
<line x1="130.60" y1="460.90" x2="130.60" y2="451.60" stroke="#b8b8b8" stroke-width="0.7"/>
<line x1="130.60" y1="451.60" x2="130.60" y2="441.90" stroke="#b8b8b8" stroke-width="0.7"/>
<line x1="130.60" y1="441.90" x2="130.60" y2="433.10" stroke="#b8b8b8" stroke-width="0.7"/>
<line x1="140.40" y1="460.90" x2="140.40" y2="451.60" stroke="#b8b8b8" stroke-width="0.7"/>
<line x1="140.40" y1="451.60" x2="140.40" y2="441.90" stroke="#b8b8b8" stroke-width="0.7"/>
<line x1="140.40" y1="441.90" x2="140.40" y2="433.10" stroke="#b8b8b8" stroke-width="0.7"/>
<rect x="132.59" y="485.69" width="5.62" height="5.62" fill="#2c47a6" stroke="#1b2a78" stroke-width="0.5"/>
<rect x="132.59" y="476.59" width="5.62" height="5.62" fill="#2c47a6" stroke="#1b2a78" stroke-width="0.5"/>
<circle cx="135.40" cy="469.75" r="2.92" fill="#34b34a" stroke="#1f7d30" stroke-width="0.45"/>
<circle cx="130.60" cy="460.90" r="2.92" fill="#34b34a" stroke="#1f7d30" stroke-width="0.45"/>
<circle cx="140.40" cy="460.90" r="2.92" fill="#34b34a" stroke="#1f7d30" stroke-width="0.45"/>
<rect x="127.79" y="448.79" width="5.62" height="5.62" fill="#2c47a6" stroke="#1b2a78" stroke-width="0.5"/>
<circle cx="130.60" cy="441.90" r="2.92" fill="#f7ee14" stroke="#a09a20" stroke-width="0.45"/>
<path d="M130.60 430.08L133.62 433.10L130.60 436.12L127.58 433.10Z" fill="#a23a9e" stroke="#6e2470" stroke-width="0.4"/>
<rect x="137.59" y="448.79" width="5.62" height="5.62" fill="#2c47a6" stroke="#1b2a78" stroke-width="0.5"/>
<circle cx="140.40" cy="441.90" r="2.92" fill="#f7ee14" stroke="#a09a20" stroke-width="0.45"/>
<path d="M140.40 430.08L143.42 433.10L140.40 436.12L137.38 433.10Z" fill="#a23a9e" stroke="#6e2470" stroke-width="0.4"/>
<path d="M142.60 488.50L148.10 485.58L148.10 491.42Z" fill="#e01a22" stroke="#9a1018" stroke-width="0.35"/>
<line x1="166.25" y1="489.40" x2="166.25" y2="481.60" stroke="#b8b8b8" stroke-width="0.7"/>
<line x1="166.25" y1="481.60" x2="166.25" y2="474.10" stroke="#b8b8b8" stroke-width="0.7"/>
<line x1="166.25" y1="474.10" x2="161.50" y2="466.50" stroke="#6e6e6e" stroke-width="0.7"/>
<line x1="166.25" y1="474.10" x2="170.60" y2="466.50" stroke="#6e6e6e" stroke-width="0.7"/>
<line x1="161.50" y1="466.50" x2="161.50" y2="459.10" stroke="#b8b8b8" stroke-width="0.7"/>
<line x1="161.50" y1="459.10" x2="161.50" y2="451.90" stroke="#b8b8b8" stroke-width="0.7"/>
<line x1="161.50" y1="451.90" x2="161.50" y2="444.40" stroke="#b8b8b8" stroke-width="0.7"/>
<line x1="170.60" y1="466.50" x2="170.60" y2="459.10" stroke="#b8b8b8" stroke-width="0.7"/>
<line x1="170.60" y1="459.10" x2="170.60" y2="451.90" stroke="#b8b8b8" stroke-width="0.7"/>
<line x1="170.60" y1="451.90" x2="170.60" y2="444.40" stroke="#b8b8b8" stroke-width="0.7"/>
<line x1="166.25" y1="432.10" x2="166.25" y2="439.45" stroke="#c4c4c4" stroke-width="0.6"/>
<path d="M158.75 440.95Q159.25 439.75 161.75 439.75L165.12 439.75L166.12 439.15L167.12 439.75L170.50 439.75Q173.00 439.75 173.50 440.95" fill="none" stroke="#b4b4b4" stroke-width="0.7"/>
<rect x="163.65" y="486.80" width="5.20" height="5.20" fill="#2c47a6" stroke="#1b2a78" stroke-width="0.5"/>
<rect x="163.65" y="479.00" width="5.20" height="5.20" fill="#2c47a6" stroke="#1b2a78" stroke-width="0.5"/>
<circle cx="166.25" cy="474.10" r="2.70" fill="#34b34a" stroke="#1f7d30" stroke-width="0.45"/>
<circle cx="161.50" cy="466.50" r="2.70" fill="#34b34a" stroke="#1f7d30" stroke-width="0.45"/>
<circle cx="170.60" cy="466.50" r="2.70" fill="#34b34a" stroke="#1f7d30" stroke-width="0.45"/>
<rect x="158.90" y="456.50" width="5.20" height="5.20" fill="#2c47a6" stroke="#1b2a78" stroke-width="0.5"/>
<circle cx="161.50" cy="451.90" r="2.70" fill="#f7ee14" stroke="#a09a20" stroke-width="0.45"/>
<path d="M161.50 441.60L164.30 444.40L161.50 447.20L158.70 444.40Z" fill="#a23a9e" stroke="#6e2470" stroke-width="0.4"/>
<rect x="168.00" y="456.50" width="5.20" height="5.20" fill="#2c47a6" stroke="#1b2a78" stroke-width="0.5"/>
<circle cx="170.60" cy="451.90" r="2.70" fill="#f7ee14" stroke="#a09a20" stroke-width="0.45"/>
<path d="M170.60 441.60L173.40 444.40L170.60 447.20L167.80 444.40Z" fill="#a23a9e" stroke="#6e2470" stroke-width="0.4"/>
<rect x="163.65" y="429.50" width="5.20" height="5.20" fill="#2c47a6" stroke="#1b2a78" stroke-width="0.5"/>
<line x1="196.00" y1="488.50" x2="196.00" y2="480.00" stroke="#b8b8b8" stroke-width="0.7"/>
<line x1="196.00" y1="480.00" x2="196.00" y2="471.90" stroke="#b8b8b8" stroke-width="0.7"/>
<line x1="196.00" y1="471.90" x2="189.75" y2="463.10" stroke="#6e6e6e" stroke-width="0.7"/>
<line x1="196.00" y1="471.90" x2="202.25" y2="463.10" stroke="#6e6e6e" stroke-width="0.7"/>
<line x1="196.00" y1="488.50" x2="202.40" y2="488.50" stroke="#b8b8b8" stroke-width="0.7"/>
<line x1="189.75" y1="463.10" x2="189.75" y2="454.75" stroke="#b8b8b8" stroke-width="0.7"/>
<line x1="189.75" y1="454.75" x2="189.75" y2="446.25" stroke="#b8b8b8" stroke-width="0.7"/>
<line x1="202.25" y1="463.10" x2="198.10" y2="454.75" stroke="#6e6e6e" stroke-width="0.7"/>
<line x1="198.10" y1="454.75" x2="198.10" y2="446.25" stroke="#b8b8b8" stroke-width="0.7"/>
<line x1="202.25" y1="463.10" x2="206.60" y2="454.75" stroke="#6e6e6e" stroke-width="0.7"/>
<line x1="206.60" y1="454.75" x2="206.60" y2="446.25" stroke="#b8b8b8" stroke-width="0.7"/>
<line x1="198.40" y1="432.50" x2="198.40" y2="441.20" stroke="#c4c4c4" stroke-width="0.6"/>
<path d="M187.25 442.70Q187.75 441.50 190.25 441.50L197.32 441.50L198.32 440.90L199.32 441.50L206.40 441.50Q208.90 441.50 209.40 442.70" fill="none" stroke="#b4b4b4" stroke-width="0.7"/>
<rect x="193.40" y="485.90" width="5.20" height="5.20" fill="#2c47a6" stroke="#1b2a78" stroke-width="0.5"/>
<rect x="193.40" y="477.40" width="5.20" height="5.20" fill="#2c47a6" stroke="#1b2a78" stroke-width="0.5"/>
<circle cx="196.00" cy="471.90" r="2.70" fill="#34b34a" stroke="#1f7d30" stroke-width="0.45"/>
<circle cx="189.75" cy="463.10" r="2.70" fill="#34b34a" stroke="#1f7d30" stroke-width="0.45"/>
<circle cx="202.25" cy="463.10" r="2.70" fill="#34b34a" stroke="#1f7d30" stroke-width="0.45"/>
<rect x="187.15" y="452.15" width="5.20" height="5.20" fill="#2c47a6" stroke="#1b2a78" stroke-width="0.5"/>
<circle cx="189.75" cy="446.25" r="2.70" fill="#f7ee14" stroke="#a09a20" stroke-width="0.45"/>
<rect x="195.50" y="452.15" width="5.20" height="5.20" fill="#2c47a6" stroke="#1b2a78" stroke-width="0.5"/>
<circle cx="198.10" cy="446.25" r="2.70" fill="#f7ee14" stroke="#a09a20" stroke-width="0.45"/>
<rect x="204.00" y="452.15" width="5.20" height="5.20" fill="#2c47a6" stroke="#1b2a78" stroke-width="0.5"/>
<circle cx="206.60" cy="446.25" r="2.70" fill="#f7ee14" stroke="#a09a20" stroke-width="0.45"/>
<path d="M202.40 488.50L207.60 485.80L207.60 491.20Z" fill="#e01a22" stroke="#9a1018" stroke-width="0.35"/>
<path d="M198.40 429.70L201.20 432.50L198.40 435.30L195.60 432.50Z" fill="#a23a9e" stroke="#6e2470" stroke-width="0.4"/>
<line x1="228.10" y1="487.75" x2="228.10" y2="479.40" stroke="#b8b8b8" stroke-width="0.7"/>
<line x1="228.10" y1="479.40" x2="228.10" y2="470.60" stroke="#b8b8b8" stroke-width="0.7"/>
<line x1="228.10" y1="470.60" x2="221.90" y2="462.25" stroke="#6e6e6e" stroke-width="0.7"/>
<line x1="228.10" y1="470.60" x2="234.75" y2="462.25" stroke="#6e6e6e" stroke-width="0.7"/>
<line x1="221.90" y1="462.25" x2="221.90" y2="453.75" stroke="#b8b8b8" stroke-width="0.7"/>
<line x1="221.90" y1="453.75" x2="221.90" y2="445.00" stroke="#b8b8b8" stroke-width="0.7"/>
<line x1="234.75" y1="462.25" x2="230.60" y2="453.75" stroke="#6e6e6e" stroke-width="0.7"/>
<line x1="230.60" y1="453.75" x2="230.60" y2="445.00" stroke="#b8b8b8" stroke-width="0.7"/>
<line x1="234.75" y1="462.25" x2="239.40" y2="453.75" stroke="#6e6e6e" stroke-width="0.7"/>
<line x1="239.40" y1="453.75" x2="239.40" y2="445.00" stroke="#b8b8b8" stroke-width="0.7"/>
<line x1="226.00" y1="431.00" x2="226.00" y2="439.70" stroke="#c4c4c4" stroke-width="0.6"/>
<line x1="235.00" y1="431.25" x2="235.00" y2="439.70" stroke="#c4c4c4" stroke-width="0.6"/>
<path d="M219.00 441.20Q219.50 440.00 222.00 440.00L229.45 440.00L230.45 439.40L231.45 440.00L238.90 440.00Q241.40 440.00 241.90 441.20" fill="none" stroke="#b4b4b4" stroke-width="0.7"/>
<rect x="225.50" y="485.15" width="5.20" height="5.20" fill="#2c47a6" stroke="#1b2a78" stroke-width="0.5"/>
<rect x="225.50" y="476.80" width="5.20" height="5.20" fill="#2c47a6" stroke="#1b2a78" stroke-width="0.5"/>
<circle cx="228.10" cy="470.60" r="2.70" fill="#34b34a" stroke="#1f7d30" stroke-width="0.45"/>
<circle cx="221.90" cy="462.25" r="2.70" fill="#34b34a" stroke="#1f7d30" stroke-width="0.45"/>
<circle cx="234.75" cy="462.25" r="2.70" fill="#34b34a" stroke="#1f7d30" stroke-width="0.45"/>
<rect x="219.30" y="451.15" width="5.20" height="5.20" fill="#2c47a6" stroke="#1b2a78" stroke-width="0.5"/>
<circle cx="221.90" cy="445.00" r="2.70" fill="#f7ee14" stroke="#a09a20" stroke-width="0.45"/>
<rect x="228.00" y="451.15" width="5.20" height="5.20" fill="#2c47a6" stroke="#1b2a78" stroke-width="0.5"/>
<circle cx="230.60" cy="445.00" r="2.70" fill="#f7ee14" stroke="#a09a20" stroke-width="0.45"/>
<rect x="236.80" y="451.15" width="5.20" height="5.20" fill="#2c47a6" stroke="#1b2a78" stroke-width="0.5"/>
<circle cx="239.40" cy="445.00" r="2.70" fill="#f7ee14" stroke="#a09a20" stroke-width="0.45"/>
<rect x="223.40" y="428.40" width="5.20" height="5.20" fill="#2c47a6" stroke="#1b2a78" stroke-width="0.5"/>
<path d="M235.00 428.45L237.80 431.25L235.00 434.05L232.20 431.25Z" fill="#a23a9e" stroke="#6e2470" stroke-width="0.4"/>
<line x1="259.60" y1="488.50" x2="259.60" y2="480.00" stroke="#b8b8b8" stroke-width="0.7"/>
<line x1="259.60" y1="480.00" x2="259.60" y2="471.50" stroke="#b8b8b8" stroke-width="0.7"/>
<line x1="259.60" y1="471.50" x2="252.90" y2="462.75" stroke="#6e6e6e" stroke-width="0.7"/>
<line x1="259.60" y1="471.50" x2="265.90" y2="462.75" stroke="#6e6e6e" stroke-width="0.7"/>
<line x1="259.60" y1="488.50" x2="266.20" y2="488.50" stroke="#b8b8b8" stroke-width="0.7"/>
<line x1="252.90" y1="462.75" x2="252.90" y2="454.40" stroke="#b8b8b8" stroke-width="0.7"/>
<line x1="252.90" y1="454.40" x2="252.90" y2="445.60" stroke="#b8b8b8" stroke-width="0.7"/>
<line x1="265.90" y1="462.75" x2="261.60" y2="454.40" stroke="#6e6e6e" stroke-width="0.7"/>
<line x1="261.60" y1="454.40" x2="261.60" y2="445.60" stroke="#b8b8b8" stroke-width="0.7"/>
<line x1="265.90" y1="462.75" x2="270.60" y2="454.40" stroke="#6e6e6e" stroke-width="0.7"/>
<line x1="270.60" y1="454.40" x2="270.60" y2="445.60" stroke="#b8b8b8" stroke-width="0.7"/>
<line x1="257.25" y1="431.90" x2="257.25" y2="440.30" stroke="#c4c4c4" stroke-width="0.6"/>
<line x1="266.00" y1="431.90" x2="266.00" y2="440.30" stroke="#c4c4c4" stroke-width="0.6"/>
<path d="M250.00 441.80Q250.50 440.60 253.00 440.60L260.25 440.60L261.25 440.00L262.25 440.60L269.50 440.60Q272.00 440.60 272.50 441.80" fill="none" stroke="#b4b4b4" stroke-width="0.7"/>
<rect x="257.00" y="485.90" width="5.20" height="5.20" fill="#2c47a6" stroke="#1b2a78" stroke-width="0.5"/>
<rect x="257.00" y="477.40" width="5.20" height="5.20" fill="#2c47a6" stroke="#1b2a78" stroke-width="0.5"/>
<circle cx="259.60" cy="471.50" r="2.70" fill="#34b34a" stroke="#1f7d30" stroke-width="0.45"/>
<circle cx="252.90" cy="462.75" r="2.70" fill="#34b34a" stroke="#1f7d30" stroke-width="0.45"/>
<circle cx="265.90" cy="462.75" r="2.70" fill="#34b34a" stroke="#1f7d30" stroke-width="0.45"/>
<rect x="250.30" y="451.80" width="5.20" height="5.20" fill="#2c47a6" stroke="#1b2a78" stroke-width="0.5"/>
<circle cx="252.90" cy="445.60" r="2.70" fill="#f7ee14" stroke="#a09a20" stroke-width="0.45"/>
<rect x="259.00" y="451.80" width="5.20" height="5.20" fill="#2c47a6" stroke="#1b2a78" stroke-width="0.5"/>
<circle cx="261.60" cy="445.60" r="2.70" fill="#f7ee14" stroke="#a09a20" stroke-width="0.45"/>
<rect x="268.00" y="451.80" width="5.20" height="5.20" fill="#2c47a6" stroke="#1b2a78" stroke-width="0.5"/>
<circle cx="270.60" cy="445.60" r="2.70" fill="#f7ee14" stroke="#a09a20" stroke-width="0.45"/>
<path d="M266.20 488.50L271.40 485.80L271.40 491.20Z" fill="#e01a22" stroke="#9a1018" stroke-width="0.35"/>
<path d="M257.25 429.10L260.05 431.90L257.25 434.70L254.45 431.90Z" fill="#a23a9e" stroke="#6e2470" stroke-width="0.4"/>
<path d="M266.00 429.10L268.80 431.90L266.00 434.70L263.20 431.90Z" fill="#a23a9e" stroke="#6e2470" stroke-width="0.4"/>
<line x1="288.90" y1="489.20" x2="288.90" y2="480.80" stroke="#b8b8b8" stroke-width="0.7"/>
<line x1="288.90" y1="480.80" x2="288.90" y2="472.70" stroke="#b8b8b8" stroke-width="0.7"/>
<line x1="288.90" y1="472.70" x2="282.60" y2="464.20" stroke="#6e6e6e" stroke-width="0.7"/>
<line x1="288.90" y1="472.70" x2="296.20" y2="464.20" stroke="#6e6e6e" stroke-width="0.7"/>
<line x1="282.60" y1="464.20" x2="282.60" y2="456.20" stroke="#b8b8b8" stroke-width="0.7"/>
<line x1="282.60" y1="456.20" x2="282.60" y2="447.60" stroke="#b8b8b8" stroke-width="0.7"/>
<line x1="296.20" y1="464.20" x2="291.50" y2="456.20" stroke="#6e6e6e" stroke-width="0.7"/>
<line x1="291.50" y1="456.20" x2="291.50" y2="447.60" stroke="#b8b8b8" stroke-width="0.7"/>
<line x1="296.20" y1="464.20" x2="300.80" y2="456.20" stroke="#6e6e6e" stroke-width="0.7"/>
<line x1="300.80" y1="456.20" x2="300.80" y2="447.60" stroke="#b8b8b8" stroke-width="0.7"/>
<line x1="282.60" y1="434.20" x2="282.60" y2="442.40" stroke="#c4c4c4" stroke-width="0.6"/>
<line x1="291.50" y1="434.20" x2="291.50" y2="442.40" stroke="#c4c4c4" stroke-width="0.6"/>
<line x1="300.80" y1="434.20" x2="300.80" y2="442.40" stroke="#c4c4c4" stroke-width="0.6"/>
<path d="M279.20 443.90Q279.70 442.70 282.20 442.70L290.35 442.70L291.35 442.10L292.35 442.70L300.50 442.70Q303.00 442.70 303.50 443.90" fill="none" stroke="#b4b4b4" stroke-width="0.7"/>
<rect x="286.30" y="486.60" width="5.20" height="5.20" fill="#2c47a6" stroke="#1b2a78" stroke-width="0.5"/>
<rect x="286.30" y="478.20" width="5.20" height="5.20" fill="#2c47a6" stroke="#1b2a78" stroke-width="0.5"/>
<circle cx="288.90" cy="472.70" r="2.70" fill="#34b34a" stroke="#1f7d30" stroke-width="0.45"/>
<circle cx="282.60" cy="464.20" r="2.70" fill="#34b34a" stroke="#1f7d30" stroke-width="0.45"/>
<circle cx="296.20" cy="464.20" r="2.70" fill="#34b34a" stroke="#1f7d30" stroke-width="0.45"/>
<rect x="280.00" y="453.60" width="5.20" height="5.20" fill="#2c47a6" stroke="#1b2a78" stroke-width="0.5"/>
<circle cx="282.60" cy="447.60" r="2.70" fill="#f7ee14" stroke="#a09a20" stroke-width="0.45"/>
<rect x="288.90" y="453.60" width="5.20" height="5.20" fill="#2c47a6" stroke="#1b2a78" stroke-width="0.5"/>
<circle cx="291.50" cy="447.60" r="2.70" fill="#f7ee14" stroke="#a09a20" stroke-width="0.45"/>
<rect x="298.20" y="453.60" width="5.20" height="5.20" fill="#2c47a6" stroke="#1b2a78" stroke-width="0.5"/>
<circle cx="300.80" cy="447.60" r="2.70" fill="#f7ee14" stroke="#a09a20" stroke-width="0.45"/>
<rect x="280.00" y="431.60" width="5.20" height="5.20" fill="#2c47a6" stroke="#1b2a78" stroke-width="0.5"/>
<path d="M291.50 431.40L294.30 434.20L291.50 437.00L288.70 434.20Z" fill="#a23a9e" stroke="#6e2470" stroke-width="0.4"/>
<path d="M300.80 431.40L303.60 434.20L300.80 437.00L298.00 434.20Z" fill="#a23a9e" stroke="#6e2470" stroke-width="0.4"/>
<line x1="322.30" y1="488.50" x2="322.30" y2="479.60" stroke="#b8b8b8" stroke-width="0.7"/>
<line x1="322.30" y1="479.60" x2="322.30" y2="470.70" stroke="#b8b8b8" stroke-width="0.7"/>
<line x1="322.30" y1="470.70" x2="315.70" y2="461.90" stroke="#6e6e6e" stroke-width="0.7"/>
<line x1="322.30" y1="470.70" x2="328.50" y2="461.90" stroke="#6e6e6e" stroke-width="0.7"/>
<line x1="322.30" y1="488.50" x2="328.40" y2="488.50" stroke="#b8b8b8" stroke-width="0.7"/>
<line x1="315.70" y1="461.90" x2="315.70" y2="453.20" stroke="#b8b8b8" stroke-width="0.7"/>
<line x1="315.70" y1="453.20" x2="315.70" y2="444.20" stroke="#b8b8b8" stroke-width="0.7"/>
<line x1="315.70" y1="444.20" x2="315.70" y2="435.50" stroke="#b8b8b8" stroke-width="0.7"/>
<line x1="328.50" y1="461.90" x2="324.30" y2="453.20" stroke="#6e6e6e" stroke-width="0.7"/>
<line x1="324.30" y1="453.20" x2="324.30" y2="444.20" stroke="#b8b8b8" stroke-width="0.7"/>
<line x1="324.30" y1="444.20" x2="324.30" y2="435.50" stroke="#b8b8b8" stroke-width="0.7"/>
<line x1="328.50" y1="461.90" x2="333.10" y2="453.20" stroke="#6e6e6e" stroke-width="0.7"/>
<line x1="333.10" y1="453.20" x2="333.10" y2="444.20" stroke="#b8b8b8" stroke-width="0.7"/>
<line x1="333.10" y1="444.20" x2="333.10" y2="435.50" stroke="#b8b8b8" stroke-width="0.7"/>
<rect x="319.70" y="485.90" width="5.20" height="5.20" fill="#2c47a6" stroke="#1b2a78" stroke-width="0.5"/>
<rect x="319.70" y="477.00" width="5.20" height="5.20" fill="#2c47a6" stroke="#1b2a78" stroke-width="0.5"/>
<circle cx="322.30" cy="470.70" r="2.70" fill="#34b34a" stroke="#1f7d30" stroke-width="0.45"/>
<circle cx="315.70" cy="461.90" r="2.70" fill="#34b34a" stroke="#1f7d30" stroke-width="0.45"/>
<circle cx="328.50" cy="461.90" r="2.70" fill="#34b34a" stroke="#1f7d30" stroke-width="0.45"/>
<rect x="313.10" y="450.60" width="5.20" height="5.20" fill="#2c47a6" stroke="#1b2a78" stroke-width="0.5"/>
<circle cx="315.70" cy="444.20" r="2.70" fill="#f7ee14" stroke="#a09a20" stroke-width="0.45"/>
<path d="M315.70 432.70L318.50 435.50L315.70 438.30L312.90 435.50Z" fill="#a23a9e" stroke="#6e2470" stroke-width="0.4"/>
<rect x="321.70" y="450.60" width="5.20" height="5.20" fill="#2c47a6" stroke="#1b2a78" stroke-width="0.5"/>
<circle cx="324.30" cy="444.20" r="2.70" fill="#f7ee14" stroke="#a09a20" stroke-width="0.45"/>
<path d="M324.30 432.70L327.10 435.50L324.30 438.30L321.50 435.50Z" fill="#a23a9e" stroke="#6e2470" stroke-width="0.4"/>
<rect x="330.50" y="450.60" width="5.20" height="5.20" fill="#2c47a6" stroke="#1b2a78" stroke-width="0.5"/>
<circle cx="333.10" cy="444.20" r="2.70" fill="#f7ee14" stroke="#a09a20" stroke-width="0.45"/>
<path d="M333.10 432.70L335.90 435.50L333.10 438.30L330.30 435.50Z" fill="#a23a9e" stroke="#6e2470" stroke-width="0.4"/>
<path d="M328.40 488.50L333.80 485.80L333.80 491.20Z" fill="#e01a22" stroke="#9a1018" stroke-width="0.35"/>
<circle cx="461.60" cy="50.40" r="2.97" fill="#34b34a" stroke="#1f7d30" stroke-width="0.45"/>
<rect x="458.79" y="62.49" width="5.62" height="5.62" fill="#2c47a6" stroke="#1b2a78" stroke-width="0.5"/>
<circle cx="461.60" cy="82.00" r="3.10" fill="#f7ee14" stroke="#a09a20" stroke-width="0.45"/>
<path d="M461.60 93.54L464.96 96.90L461.60 100.26L458.24 96.90Z" fill="#a23a9e" stroke="#6e2470" stroke-width="0.4"/>
<path d="M461.4 108.4L465.0 114.7L457.9 114.7Z" fill="#e01a22" stroke="#9a1018" stroke-width="0.35"/>
<text x="472.00" y="54.20" font-size="10.9" text-anchor="start" fill="#1a1a1a">Mannose</text>
<text x="472.00" y="68.40" font-size="10.9" text-anchor="start" fill="#1a1a1a">GlcNAc</text>
<text x="472.00" y="85.20" font-size="10.9" text-anchor="start" fill="#1a1a1a">Galactose</text>
<text x="472.00" y="100.60" font-size="10.9" text-anchor="start" fill="#1a1a1a">Sialic acid</text>
<text x="472.00" y="115.60" font-size="10.9" text-anchor="start" fill="#1a1a1a">Fucose</text>
<rect x="45.15" y="264.20" width="8.50" height="36.40" fill="#000"/>
<rect x="55.18" y="190.90" width="8.50" height="109.70" fill="#000"/>
<rect x="75.24" y="253.00" width="8.50" height="47.60" fill="#000"/>
<rect x="105.33" y="293.70" width="8.50" height="6.90" fill="#000"/>
<rect x="115.36" y="287.30" width="8.50" height="13.30" fill="#000"/>
<rect x="125.39" y="295.10" width="8.50" height="5.50" fill="#000"/>
<rect x="135.42" y="292.80" width="8.50" height="7.80" fill="#000"/>
<rect x="165.51" y="292.80" width="8.50" height="7.80" fill="#000"/>
<rect x="175.54" y="294.60" width="8.50" height="6.00" fill="#000"/>
<line x1="42.70" y1="178.45" x2="42.70" y2="301.30" stroke="#000" stroke-width="1.5"/>
<line x1="40.30" y1="300.60" x2="187.30" y2="300.60" stroke="#000" stroke-width="1.6"/>
<line x1="39.50" y1="300.60" x2="42.70" y2="300.60" stroke="#000" stroke-width="1.15"/>
<text x="39.00" y="304.00" font-size="9.3" text-anchor="end" >0</text>
<line x1="39.50" y1="276.29" x2="42.70" y2="276.29" stroke="#000" stroke-width="1.15"/>
<text x="39.00" y="279.69" font-size="9.3" text-anchor="end" >10</text>
<line x1="39.50" y1="251.98" x2="42.70" y2="251.98" stroke="#000" stroke-width="1.15"/>
<text x="39.00" y="255.38" font-size="9.3" text-anchor="end" >20</text>
<line x1="39.50" y1="227.67" x2="42.70" y2="227.67" stroke="#000" stroke-width="1.15"/>
<text x="39.00" y="231.07" font-size="9.3" text-anchor="end" >30</text>
<line x1="39.50" y1="203.36" x2="42.70" y2="203.36" stroke="#000" stroke-width="1.15"/>
<text x="39.00" y="206.76" font-size="9.3" text-anchor="end" >40</text>
<line x1="39.50" y1="179.05" x2="42.70" y2="179.05" stroke="#000" stroke-width="1.15"/>
<text x="39.00" y="182.45" font-size="9.3" text-anchor="end" >50</text>
<line x1="49.50" y1="300.60" x2="49.50" y2="303.90" stroke="#000" stroke-width="1.3"/>
<text x="51.70" y="310.60" font-size="8.9" text-anchor="end" transform="rotate(-45 51.70 310.60)">1</text>
<line x1="59.50" y1="300.60" x2="59.50" y2="303.90" stroke="#000" stroke-width="1.3"/>
<text x="61.73" y="310.60" font-size="8.9" text-anchor="end" transform="rotate(-45 61.73 310.60)">2</text>
<line x1="69.50" y1="300.60" x2="69.50" y2="303.90" stroke="#000" stroke-width="1.3"/>
<text x="71.76" y="310.60" font-size="8.9" text-anchor="end" transform="rotate(-45 71.76 310.60)">3</text>
<line x1="79.50" y1="300.60" x2="79.50" y2="303.90" stroke="#000" stroke-width="1.3"/>
<text x="81.79" y="310.60" font-size="8.9" text-anchor="end" transform="rotate(-45 81.79 310.60)">4</text>
<line x1="89.50" y1="300.60" x2="89.50" y2="303.90" stroke="#000" stroke-width="1.3"/>
<text x="91.82" y="310.60" font-size="8.9" text-anchor="end" transform="rotate(-45 91.82 310.60)">5</text>
<line x1="99.50" y1="300.60" x2="99.50" y2="303.90" stroke="#000" stroke-width="1.3"/>
<text x="101.85" y="310.60" font-size="8.9" text-anchor="end" transform="rotate(-45 101.85 310.60)">6</text>
<line x1="109.50" y1="300.60" x2="109.50" y2="303.90" stroke="#000" stroke-width="1.3"/>
<text x="111.88" y="310.60" font-size="8.9" text-anchor="end" transform="rotate(-45 111.88 310.60)">7</text>
<line x1="119.50" y1="300.60" x2="119.50" y2="303.90" stroke="#000" stroke-width="1.3"/>
<text x="121.91" y="310.60" font-size="8.9" text-anchor="end" transform="rotate(-45 121.91 310.60)">8</text>
<line x1="129.50" y1="300.60" x2="129.50" y2="303.90" stroke="#000" stroke-width="1.3"/>
<text x="131.94" y="310.60" font-size="8.9" text-anchor="end" transform="rotate(-45 131.94 310.60)">9</text>
<line x1="139.50" y1="300.60" x2="139.50" y2="303.90" stroke="#000" stroke-width="1.3"/>
<text x="141.97" y="310.60" font-size="8.9" text-anchor="end" transform="rotate(-45 141.97 310.60)">10</text>
<line x1="149.50" y1="300.60" x2="149.50" y2="303.90" stroke="#000" stroke-width="1.3"/>
<text x="152.00" y="310.60" font-size="8.9" text-anchor="end" transform="rotate(-45 152.00 310.60)">11</text>
<line x1="159.50" y1="300.60" x2="159.50" y2="303.90" stroke="#000" stroke-width="1.3"/>
<text x="162.03" y="310.60" font-size="8.9" text-anchor="end" transform="rotate(-45 162.03 310.60)">12</text>
<line x1="169.50" y1="300.60" x2="169.50" y2="303.90" stroke="#000" stroke-width="1.3"/>
<text x="172.06" y="310.60" font-size="8.9" text-anchor="end" transform="rotate(-45 172.06 310.60)">13</text>
<line x1="179.50" y1="300.60" x2="179.50" y2="303.90" stroke="#000" stroke-width="1.3"/>
<text x="182.09" y="310.60" font-size="8.9" text-anchor="end" transform="rotate(-45 182.09 310.60)">Minor</text>
<text x="23.00" y="239.83" font-size="9.6" text-anchor="middle" transform="rotate(-90 23.00 239.83)">Relative %</text>
<text x="115.20" y="163.30" font-size="11.0" text-anchor="middle" >N388 Glycans</text>
<rect x="208.75" y="270.75" width="6.50" height="29.75" fill="#fff" stroke="#000" stroke-width="1.5"/>
<rect x="218.78" y="231.25" width="6.50" height="69.25" fill="#fff" stroke="#000" stroke-width="1.5"/>
<rect x="228.81" y="295.65" width="6.50" height="4.85" fill="#fff" stroke="#000" stroke-width="1.5"/>
<rect x="238.84" y="263.05" width="6.50" height="37.45" fill="#fff" stroke="#000" stroke-width="1.5"/>
<rect x="248.87" y="291.85" width="6.50" height="8.65" fill="#fff" stroke="#000" stroke-width="1.5"/>
<rect x="258.90" y="296.15" width="6.50" height="4.35" fill="#fff" stroke="#000" stroke-width="1.5"/>
<rect x="268.93" y="289.05" width="6.50" height="11.45" fill="#fff" stroke="#000" stroke-width="1.5"/>
<rect x="278.96" y="283.95" width="6.50" height="16.55" fill="#fff" stroke="#000" stroke-width="1.5"/>
<rect x="288.99" y="291.95" width="6.50" height="8.55" fill="#fff" stroke="#000" stroke-width="1.5"/>
<rect x="299.02" y="284.45" width="6.50" height="16.05" fill="#fff" stroke="#000" stroke-width="1.5"/>
<rect x="309.05" y="292.25" width="6.50" height="8.25" fill="#fff" stroke="#000" stroke-width="1.5"/>
<rect x="329.11" y="296.55" width="6.50" height="3.95" fill="#fff" stroke="#000" stroke-width="1.5"/>
<rect x="339.14" y="290.55" width="6.50" height="9.95" fill="#fff" stroke="#000" stroke-width="1.5"/>
<line x1="205.60" y1="178.45" x2="205.60" y2="301.20" stroke="#000" stroke-width="1.5"/>
<line x1="202.40" y1="300.50" x2="350.00" y2="300.50" stroke="#000" stroke-width="1.6"/>
<line x1="202.40" y1="300.50" x2="205.60" y2="300.50" stroke="#000" stroke-width="1.15"/>
<text x="201.90" y="303.90" font-size="9.3" text-anchor="end" >0</text>
<line x1="202.40" y1="276.21" x2="205.60" y2="276.21" stroke="#000" stroke-width="1.15"/>
<text x="201.90" y="279.61" font-size="9.3" text-anchor="end" >10</text>
<line x1="202.40" y1="251.92" x2="205.60" y2="251.92" stroke="#000" stroke-width="1.15"/>
<text x="201.90" y="255.32" font-size="9.3" text-anchor="end" >20</text>
<line x1="202.40" y1="227.63" x2="205.60" y2="227.63" stroke="#000" stroke-width="1.15"/>
<text x="201.90" y="231.03" font-size="9.3" text-anchor="end" >30</text>
<line x1="202.40" y1="203.34" x2="205.60" y2="203.34" stroke="#000" stroke-width="1.15"/>
<text x="201.90" y="206.74" font-size="9.3" text-anchor="end" >40</text>
<line x1="202.40" y1="179.05" x2="205.60" y2="179.05" stroke="#000" stroke-width="1.15"/>
<text x="201.90" y="182.45" font-size="9.3" text-anchor="end" >50</text>
<line x1="212.50" y1="300.50" x2="212.50" y2="303.80" stroke="#000" stroke-width="1.3"/>
<text x="214.30" y="310.50" font-size="8.9" text-anchor="end" transform="rotate(-45 214.30 310.50)">1</text>
<line x1="222.50" y1="300.50" x2="222.50" y2="303.80" stroke="#000" stroke-width="1.3"/>
<text x="224.33" y="310.50" font-size="8.9" text-anchor="end" transform="rotate(-45 224.33 310.50)">2</text>
<line x1="232.50" y1="300.50" x2="232.50" y2="303.80" stroke="#000" stroke-width="1.3"/>
<text x="234.36" y="310.50" font-size="8.9" text-anchor="end" transform="rotate(-45 234.36 310.50)">3</text>
<line x1="242.50" y1="300.50" x2="242.50" y2="303.80" stroke="#000" stroke-width="1.3"/>
<text x="244.39" y="310.50" font-size="8.9" text-anchor="end" transform="rotate(-45 244.39 310.50)">4</text>
<line x1="252.50" y1="300.50" x2="252.50" y2="303.80" stroke="#000" stroke-width="1.3"/>
<text x="254.42" y="310.50" font-size="8.9" text-anchor="end" transform="rotate(-45 254.42 310.50)">5</text>
<line x1="262.50" y1="300.50" x2="262.50" y2="303.80" stroke="#000" stroke-width="1.3"/>
<text x="264.45" y="310.50" font-size="8.9" text-anchor="end" transform="rotate(-45 264.45 310.50)">6</text>
<line x1="272.50" y1="300.50" x2="272.50" y2="303.80" stroke="#000" stroke-width="1.3"/>
<text x="274.48" y="310.50" font-size="8.9" text-anchor="end" transform="rotate(-45 274.48 310.50)">7</text>
<line x1="282.50" y1="300.50" x2="282.50" y2="303.80" stroke="#000" stroke-width="1.3"/>
<text x="284.51" y="310.50" font-size="8.9" text-anchor="end" transform="rotate(-45 284.51 310.50)">8</text>
<line x1="292.50" y1="300.50" x2="292.50" y2="303.80" stroke="#000" stroke-width="1.3"/>
<text x="294.54" y="310.50" font-size="8.9" text-anchor="end" transform="rotate(-45 294.54 310.50)">9</text>
<line x1="302.50" y1="300.50" x2="302.50" y2="303.80" stroke="#000" stroke-width="1.3"/>
<text x="304.57" y="310.50" font-size="8.9" text-anchor="end" transform="rotate(-45 304.57 310.50)">10</text>
<line x1="312.50" y1="300.50" x2="312.50" y2="303.80" stroke="#000" stroke-width="1.3"/>
<text x="314.60" y="310.50" font-size="8.9" text-anchor="end" transform="rotate(-45 314.60 310.50)">11</text>
<line x1="322.50" y1="300.50" x2="322.50" y2="303.80" stroke="#000" stroke-width="1.3"/>
<text x="324.63" y="310.50" font-size="8.9" text-anchor="end" transform="rotate(-45 324.63 310.50)">12</text>
<line x1="332.50" y1="300.50" x2="332.50" y2="303.80" stroke="#000" stroke-width="1.3"/>
<text x="334.66" y="310.50" font-size="8.9" text-anchor="end" transform="rotate(-45 334.66 310.50)">13</text>
<line x1="342.50" y1="300.50" x2="342.50" y2="303.80" stroke="#000" stroke-width="1.3"/>
<text x="344.69" y="310.50" font-size="8.9" text-anchor="end" transform="rotate(-45 344.69 310.50)">Minor</text>
<text x="277.80" y="163.50" font-size="11.0" text-anchor="middle" >N488 Glycans</text>
<rect x="371.75" y="252.95" width="6.50" height="47.50" fill="#8c8c8c" stroke="#000" stroke-width="1.5"/>
<rect x="381.80" y="200.65" width="6.50" height="99.80" fill="#8c8c8c" stroke="#000" stroke-width="1.5"/>
<rect x="401.90" y="257.75" width="6.50" height="42.70" fill="#8c8c8c" stroke="#000" stroke-width="1.5"/>
<rect x="442.10" y="290.35" width="6.50" height="10.10" fill="#8c8c8c" stroke="#000" stroke-width="1.5"/>
<rect x="452.15" y="292.25" width="6.50" height="8.20" fill="#8c8c8c" stroke="#000" stroke-width="1.5"/>
<rect x="462.20" y="294.25" width="6.50" height="6.20" fill="#8c8c8c" stroke="#000" stroke-width="1.5"/>
<rect x="482.30" y="295.35" width="6.50" height="5.10" fill="#8c8c8c" stroke="#000" stroke-width="1.5"/>
<rect x="492.35" y="292.45" width="6.50" height="8.00" fill="#8c8c8c" stroke="#000" stroke-width="1.5"/>
<rect x="502.40" y="294.25" width="6.50" height="6.20" fill="#8c8c8c" stroke="#000" stroke-width="1.5"/>
<line x1="368.40" y1="178.20" x2="368.40" y2="301.15" stroke="#000" stroke-width="1.5"/>
<line x1="365.00" y1="300.45" x2="513.30" y2="300.45" stroke="#000" stroke-width="1.6"/>
<line x1="365.20" y1="300.45" x2="368.40" y2="300.45" stroke="#000" stroke-width="1.15"/>
<text x="364.70" y="303.85" font-size="9.3" text-anchor="end" >0</text>
<line x1="365.20" y1="276.12" x2="368.40" y2="276.12" stroke="#000" stroke-width="1.15"/>
<text x="364.70" y="279.52" font-size="9.3" text-anchor="end" >10</text>
<line x1="365.20" y1="251.79" x2="368.40" y2="251.79" stroke="#000" stroke-width="1.15"/>
<text x="364.70" y="255.19" font-size="9.3" text-anchor="end" >20</text>
<line x1="365.20" y1="227.46" x2="368.40" y2="227.46" stroke="#000" stroke-width="1.15"/>
<text x="364.70" y="230.86" font-size="9.3" text-anchor="end" >30</text>
<line x1="365.20" y1="203.13" x2="368.40" y2="203.13" stroke="#000" stroke-width="1.15"/>
<text x="364.70" y="206.53" font-size="9.3" text-anchor="end" >40</text>
<line x1="365.20" y1="178.80" x2="368.40" y2="178.80" stroke="#000" stroke-width="1.15"/>
<text x="364.70" y="182.20" font-size="9.3" text-anchor="end" >50</text>
<line x1="375.50" y1="300.45" x2="375.50" y2="303.75" stroke="#000" stroke-width="1.3"/>
<text x="377.30" y="310.45" font-size="8.9" text-anchor="end" transform="rotate(-45 377.30 310.45)">1</text>
<line x1="385.50" y1="300.45" x2="385.50" y2="303.75" stroke="#000" stroke-width="1.3"/>
<text x="387.35" y="310.45" font-size="8.9" text-anchor="end" transform="rotate(-45 387.35 310.45)">2</text>
<line x1="395.50" y1="300.45" x2="395.50" y2="303.75" stroke="#000" stroke-width="1.3"/>
<text x="397.40" y="310.45" font-size="8.9" text-anchor="end" transform="rotate(-45 397.40 310.45)">3</text>
<line x1="405.50" y1="300.45" x2="405.50" y2="303.75" stroke="#000" stroke-width="1.3"/>
<text x="407.45" y="310.45" font-size="8.9" text-anchor="end" transform="rotate(-45 407.45 310.45)">4</text>
<line x1="415.50" y1="300.45" x2="415.50" y2="303.75" stroke="#000" stroke-width="1.3"/>
<text x="417.50" y="310.45" font-size="8.9" text-anchor="end" transform="rotate(-45 417.50 310.45)">5</text>
<line x1="425.50" y1="300.45" x2="425.50" y2="303.75" stroke="#000" stroke-width="1.3"/>
<text x="427.55" y="310.45" font-size="8.9" text-anchor="end" transform="rotate(-45 427.55 310.45)">6</text>
<line x1="435.50" y1="300.45" x2="435.50" y2="303.75" stroke="#000" stroke-width="1.3"/>
<text x="437.60" y="310.45" font-size="8.9" text-anchor="end" transform="rotate(-45 437.60 310.45)">7</text>
<line x1="445.50" y1="300.45" x2="445.50" y2="303.75" stroke="#000" stroke-width="1.3"/>
<text x="447.65" y="310.45" font-size="8.9" text-anchor="end" transform="rotate(-45 447.65 310.45)">8</text>
<line x1="455.50" y1="300.45" x2="455.50" y2="303.75" stroke="#000" stroke-width="1.3"/>
<text x="457.70" y="310.45" font-size="8.9" text-anchor="end" transform="rotate(-45 457.70 310.45)">9</text>
<line x1="465.50" y1="300.45" x2="465.50" y2="303.75" stroke="#000" stroke-width="1.3"/>
<text x="467.75" y="310.45" font-size="8.9" text-anchor="end" transform="rotate(-45 467.75 310.45)">10</text>
<line x1="475.50" y1="300.45" x2="475.50" y2="303.75" stroke="#000" stroke-width="1.3"/>
<text x="477.80" y="310.45" font-size="8.9" text-anchor="end" transform="rotate(-45 477.80 310.45)">11</text>
<line x1="485.50" y1="300.45" x2="485.50" y2="303.75" stroke="#000" stroke-width="1.3"/>
<text x="487.85" y="310.45" font-size="8.9" text-anchor="end" transform="rotate(-45 487.85 310.45)">12</text>
<line x1="495.50" y1="300.45" x2="495.50" y2="303.75" stroke="#000" stroke-width="1.3"/>
<text x="497.90" y="310.45" font-size="8.9" text-anchor="end" transform="rotate(-45 497.90 310.45)">13</text>
<line x1="505.50" y1="300.45" x2="505.50" y2="303.75" stroke="#000" stroke-width="1.3"/>
<text x="507.95" y="310.45" font-size="8.9" text-anchor="end" transform="rotate(-45 507.95 310.45)">Minor</text>
<text x="440.80" y="163.50" font-size="11.0" text-anchor="middle" >N515 Glycans</text>
<text x="279.30" y="349.20" font-size="11.8" text-anchor="middle" >Structure Number</text>
<rect x="47.90" y="617.90" width="10.00" height="55.60" fill="#000"/>
<rect x="60.59" y="666.00" width="10.00" height="7.50" fill="#000"/>
<rect x="73.28" y="668.90" width="10.00" height="4.60" fill="#000"/>
<rect x="85.97" y="571.50" width="10.00" height="102.00" fill="#000"/>
<rect x="136.73" y="664.80" width="10.00" height="8.70" fill="#000"/>
<rect x="162.11" y="664.20" width="10.00" height="9.30" fill="#000"/>
<rect x="174.80" y="658.50" width="10.00" height="15.00" fill="#000"/>
<line x1="44.60" y1="552.00" x2="44.60" y2="674.20" stroke="#000" stroke-width="1.5"/>
<line x1="41.60" y1="673.50" x2="188.80" y2="673.50" stroke="#000" stroke-width="1.6"/>
<line x1="41.40" y1="673.50" x2="44.60" y2="673.50" stroke="#000" stroke-width="1.15"/>
<text x="40.90" y="676.90" font-size="9.3" text-anchor="end" >0</text>
<line x1="41.40" y1="633.20" x2="44.60" y2="633.20" stroke="#000" stroke-width="1.15"/>
<text x="40.90" y="636.60" font-size="9.3" text-anchor="end" >20</text>
<line x1="41.40" y1="592.90" x2="44.60" y2="592.90" stroke="#000" stroke-width="1.15"/>
<text x="40.90" y="596.30" font-size="9.3" text-anchor="end" >40</text>
<line x1="41.40" y1="552.60" x2="44.60" y2="552.60" stroke="#000" stroke-width="1.15"/>
<text x="40.90" y="556.00" font-size="9.3" text-anchor="end" >60</text>
<line x1="52.50" y1="673.50" x2="52.50" y2="676.80" stroke="#000" stroke-width="1.3"/>
<text x="55.20" y="683.50" font-size="8.9" text-anchor="end" transform="rotate(-45 55.20 683.50)">1</text>
<line x1="65.50" y1="673.50" x2="65.50" y2="676.80" stroke="#000" stroke-width="1.3"/>
<text x="67.89" y="683.50" font-size="8.9" text-anchor="end" transform="rotate(-45 67.89 683.50)">2</text>
<line x1="78.50" y1="673.50" x2="78.50" y2="676.80" stroke="#000" stroke-width="1.3"/>
<text x="80.58" y="683.50" font-size="8.9" text-anchor="end" transform="rotate(-45 80.58 683.50)">3</text>
<line x1="90.50" y1="673.50" x2="90.50" y2="676.80" stroke="#000" stroke-width="1.3"/>
<text x="93.27" y="683.50" font-size="8.9" text-anchor="end" transform="rotate(-45 93.27 683.50)">4</text>
<line x1="103.50" y1="673.50" x2="103.50" y2="676.80" stroke="#000" stroke-width="1.3"/>
<text x="105.96" y="683.50" font-size="8.9" text-anchor="end" transform="rotate(-45 105.96 683.50)">5</text>
<line x1="116.50" y1="673.50" x2="116.50" y2="676.80" stroke="#000" stroke-width="1.3"/>
<text x="118.65" y="683.50" font-size="8.9" text-anchor="end" transform="rotate(-45 118.65 683.50)">6</text>
<line x1="129.50" y1="673.50" x2="129.50" y2="676.80" stroke="#000" stroke-width="1.3"/>
<text x="131.34" y="683.50" font-size="8.9" text-anchor="end" transform="rotate(-45 131.34 683.50)">7</text>
<line x1="141.50" y1="673.50" x2="141.50" y2="676.80" stroke="#000" stroke-width="1.3"/>
<text x="144.03" y="683.50" font-size="8.9" text-anchor="end" transform="rotate(-45 144.03 683.50)">8</text>
<line x1="154.50" y1="673.50" x2="154.50" y2="676.80" stroke="#000" stroke-width="1.3"/>
<text x="156.72" y="683.50" font-size="8.9" text-anchor="end" transform="rotate(-45 156.72 683.50)">9</text>
<line x1="167.50" y1="673.50" x2="167.50" y2="676.80" stroke="#000" stroke-width="1.3"/>
<text x="169.41" y="683.50" font-size="8.9" text-anchor="end" transform="rotate(-45 169.41 683.50)">10</text>
<line x1="179.50" y1="673.50" x2="179.50" y2="676.80" stroke="#000" stroke-width="1.3"/>
<text x="182.10" y="683.50" font-size="8.9" text-anchor="end" transform="rotate(-45 182.10 683.50)">Minor</text>
<text x="25.00" y="613.05" font-size="9.6" text-anchor="middle" transform="rotate(-90 25.00 613.05)">Relative %</text>
<text x="116.60" y="538.20" font-size="11.0" text-anchor="middle" >N388 Glycans</text>
<rect x="210.45" y="638.95" width="8.30" height="34.85" fill="#fff" stroke="#000" stroke-width="1.5"/>
<rect x="235.89" y="648.45" width="8.30" height="25.35" fill="#fff" stroke="#000" stroke-width="1.5"/>
<rect x="248.61" y="630.55" width="8.30" height="43.25" fill="#fff" stroke="#000" stroke-width="1.5"/>
<rect x="261.33" y="652.75" width="8.30" height="21.05" fill="#fff" stroke="#000" stroke-width="1.5"/>
<rect x="286.77" y="665.75" width="8.30" height="8.05" fill="#fff" stroke="#000" stroke-width="1.5"/>
<rect x="299.49" y="646.75" width="8.30" height="27.05" fill="#fff" stroke="#000" stroke-width="1.5"/>
<rect x="312.21" y="661.05" width="8.30" height="12.75" fill="#fff" stroke="#000" stroke-width="1.5"/>
<rect x="324.93" y="661.05" width="8.30" height="12.75" fill="#fff" stroke="#000" stroke-width="1.5"/>
<rect x="337.65" y="666.95" width="8.30" height="6.85" fill="#fff" stroke="#000" stroke-width="1.5"/>
<line x1="206.40" y1="552.30" x2="206.40" y2="674.50" stroke="#000" stroke-width="1.5"/>
<line x1="203.50" y1="673.80" x2="350.40" y2="673.80" stroke="#000" stroke-width="1.6"/>
<line x1="203.20" y1="673.80" x2="206.40" y2="673.80" stroke="#000" stroke-width="1.15"/>
<text x="202.70" y="677.20" font-size="9.3" text-anchor="end" >0</text>
<line x1="203.20" y1="633.50" x2="206.40" y2="633.50" stroke="#000" stroke-width="1.15"/>
<text x="202.70" y="636.90" font-size="9.3" text-anchor="end" >20</text>
<line x1="203.20" y1="593.20" x2="206.40" y2="593.20" stroke="#000" stroke-width="1.15"/>
<text x="202.70" y="596.60" font-size="9.3" text-anchor="end" >40</text>
<line x1="203.20" y1="552.90" x2="206.40" y2="552.90" stroke="#000" stroke-width="1.15"/>
<text x="202.70" y="556.30" font-size="9.3" text-anchor="end" >60</text>
<line x1="214.50" y1="673.80" x2="214.50" y2="677.10" stroke="#000" stroke-width="1.3"/>
<text x="216.90" y="683.80" font-size="8.9" text-anchor="end" transform="rotate(-45 216.90 683.80)">1</text>
<line x1="227.50" y1="673.80" x2="227.50" y2="677.10" stroke="#000" stroke-width="1.3"/>
<text x="229.62" y="683.80" font-size="8.9" text-anchor="end" transform="rotate(-45 229.62 683.80)">2</text>
<line x1="240.50" y1="673.80" x2="240.50" y2="677.10" stroke="#000" stroke-width="1.3"/>
<text x="242.34" y="683.80" font-size="8.9" text-anchor="end" transform="rotate(-45 242.34 683.80)">3</text>
<line x1="252.50" y1="673.80" x2="252.50" y2="677.10" stroke="#000" stroke-width="1.3"/>
<text x="255.06" y="683.80" font-size="8.9" text-anchor="end" transform="rotate(-45 255.06 683.80)">4</text>
<line x1="265.50" y1="673.80" x2="265.50" y2="677.10" stroke="#000" stroke-width="1.3"/>
<text x="267.78" y="683.80" font-size="8.9" text-anchor="end" transform="rotate(-45 267.78 683.80)">5</text>
<line x1="278.50" y1="673.80" x2="278.50" y2="677.10" stroke="#000" stroke-width="1.3"/>
<text x="280.50" y="683.80" font-size="8.9" text-anchor="end" transform="rotate(-45 280.50 683.80)">6</text>
<line x1="290.50" y1="673.80" x2="290.50" y2="677.10" stroke="#000" stroke-width="1.3"/>
<text x="293.22" y="683.80" font-size="8.9" text-anchor="end" transform="rotate(-45 293.22 683.80)">7</text>
<line x1="303.50" y1="673.80" x2="303.50" y2="677.10" stroke="#000" stroke-width="1.3"/>
<text x="305.94" y="683.80" font-size="8.9" text-anchor="end" transform="rotate(-45 305.94 683.80)">8</text>
<line x1="316.50" y1="673.80" x2="316.50" y2="677.10" stroke="#000" stroke-width="1.3"/>
<text x="318.66" y="683.80" font-size="8.9" text-anchor="end" transform="rotate(-45 318.66 683.80)">9</text>
<line x1="329.50" y1="673.80" x2="329.50" y2="677.10" stroke="#000" stroke-width="1.3"/>
<text x="331.38" y="683.80" font-size="8.9" text-anchor="end" transform="rotate(-45 331.38 683.80)">10</text>
<line x1="341.50" y1="673.80" x2="341.50" y2="677.10" stroke="#000" stroke-width="1.3"/>
<text x="344.10" y="683.80" font-size="8.9" text-anchor="end" transform="rotate(-45 344.10 683.80)">Minor</text>
<text x="278.80" y="538.20" font-size="11.0" text-anchor="middle" >N488 Glycans</text>
<rect x="376.35" y="622.85" width="8.50" height="50.65" fill="#8c8c8c" stroke="#000" stroke-width="1.5"/>
<rect x="401.71" y="635.45" width="8.50" height="38.05" fill="#8c8c8c" stroke="#000" stroke-width="1.5"/>
<rect x="414.39" y="622.35" width="8.50" height="51.15" fill="#8c8c8c" stroke="#000" stroke-width="1.5"/>
<rect x="427.07" y="628.05" width="8.50" height="45.45" fill="#8c8c8c" stroke="#000" stroke-width="1.5"/>
<rect x="439.75" y="669.85" width="8.50" height="3.65" fill="#8c8c8c" stroke="#000" stroke-width="1.5"/>
<rect x="465.11" y="667.95" width="8.50" height="5.55" fill="#8c8c8c" stroke="#000" stroke-width="1.5"/>
<rect x="490.47" y="670.85" width="8.50" height="2.65" fill="#8c8c8c" stroke="#000" stroke-width="1.5"/>
<line x1="371.80" y1="552.00" x2="371.80" y2="674.20" stroke="#000" stroke-width="1.5"/>
<line x1="369.00" y1="673.50" x2="516.00" y2="673.50" stroke="#000" stroke-width="1.6"/>
<line x1="368.60" y1="673.50" x2="371.80" y2="673.50" stroke="#000" stroke-width="1.15"/>
<text x="368.10" y="676.90" font-size="9.3" text-anchor="end" >0</text>
<line x1="368.60" y1="633.20" x2="371.80" y2="633.20" stroke="#000" stroke-width="1.15"/>
<text x="368.10" y="636.60" font-size="9.3" text-anchor="end" >20</text>
<line x1="368.60" y1="592.90" x2="371.80" y2="592.90" stroke="#000" stroke-width="1.15"/>
<text x="368.10" y="596.30" font-size="9.3" text-anchor="end" >40</text>
<line x1="368.60" y1="552.60" x2="371.80" y2="552.60" stroke="#000" stroke-width="1.15"/>
<text x="368.10" y="556.00" font-size="9.3" text-anchor="end" >60</text>
<line x1="380.50" y1="673.50" x2="380.50" y2="676.80" stroke="#000" stroke-width="1.3"/>
<text x="382.90" y="683.50" font-size="8.9" text-anchor="end" transform="rotate(-45 382.90 683.50)">1</text>
<line x1="393.50" y1="673.50" x2="393.50" y2="676.80" stroke="#000" stroke-width="1.3"/>
<text x="395.58" y="683.50" font-size="8.9" text-anchor="end" transform="rotate(-45 395.58 683.50)">2</text>
<line x1="405.50" y1="673.50" x2="405.50" y2="676.80" stroke="#000" stroke-width="1.3"/>
<text x="408.26" y="683.50" font-size="8.9" text-anchor="end" transform="rotate(-45 408.26 683.50)">3</text>
<line x1="418.50" y1="673.50" x2="418.50" y2="676.80" stroke="#000" stroke-width="1.3"/>
<text x="420.94" y="683.50" font-size="8.9" text-anchor="end" transform="rotate(-45 420.94 683.50)">4</text>
<line x1="431.50" y1="673.50" x2="431.50" y2="676.80" stroke="#000" stroke-width="1.3"/>
<text x="433.62" y="683.50" font-size="8.9" text-anchor="end" transform="rotate(-45 433.62 683.50)">5</text>
<line x1="444.50" y1="673.50" x2="444.50" y2="676.80" stroke="#000" stroke-width="1.3"/>
<text x="446.30" y="683.50" font-size="8.9" text-anchor="end" transform="rotate(-45 446.30 683.50)">6</text>
<line x1="456.50" y1="673.50" x2="456.50" y2="676.80" stroke="#000" stroke-width="1.3"/>
<text x="458.98" y="683.50" font-size="8.9" text-anchor="end" transform="rotate(-45 458.98 683.50)">7</text>
<line x1="469.50" y1="673.50" x2="469.50" y2="676.80" stroke="#000" stroke-width="1.3"/>
<text x="471.66" y="683.50" font-size="8.9" text-anchor="end" transform="rotate(-45 471.66 683.50)">8</text>
<line x1="482.50" y1="673.50" x2="482.50" y2="676.80" stroke="#000" stroke-width="1.3"/>
<text x="484.34" y="683.50" font-size="8.9" text-anchor="end" transform="rotate(-45 484.34 683.50)">9</text>
<line x1="494.50" y1="673.50" x2="494.50" y2="676.80" stroke="#000" stroke-width="1.3"/>
<text x="497.02" y="683.50" font-size="8.9" text-anchor="end" transform="rotate(-45 497.02 683.50)">10</text>
<line x1="507.50" y1="673.50" x2="507.50" y2="676.80" stroke="#000" stroke-width="1.3"/>
<text x="509.70" y="683.50" font-size="8.9" text-anchor="end" transform="rotate(-45 509.70 683.50)">Minor</text>
<text x="444.00" y="538.20" font-size="11.0" text-anchor="middle" >N515 Glycans</text>
<text x="291.40" y="717.40" font-size="11.8" text-anchor="middle" >Structure Number</text>
</svg>
</body></html>
